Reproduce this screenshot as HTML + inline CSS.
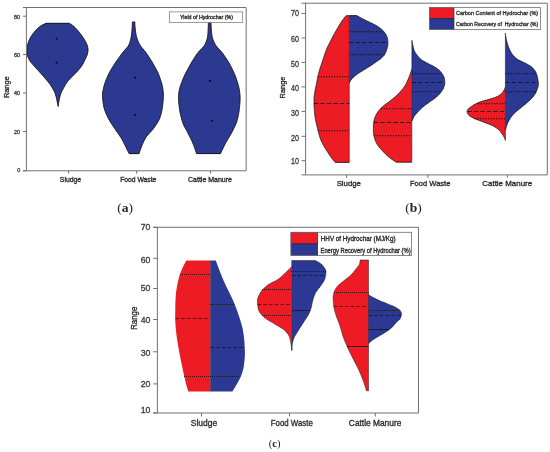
<!DOCTYPE html>
<html><head><meta charset="utf-8"><title>Violin plots</title>
<style>
html,body{margin:0;padding:0;background:#fff;}
body{width:550px;height:452px;overflow:hidden;}
svg{display:block;}
</style></head>
<body>
<svg width="550" height="452" viewBox="0 0 550 452">
<rect width="550" height="452" fill="#fff"/>
<path d="M45.90,23.30 L44.44,24.00 L43.04,24.71 L41.74,25.41 L40.59,26.12 L39.61,26.82 L38.73,27.53 L37.91,28.23 L37.14,28.93 L36.42,29.64 L35.75,30.34 L35.12,31.05 L34.52,31.75 L33.95,32.46 L33.41,33.16 L32.88,33.86 L32.37,34.57 L31.88,35.27 L31.41,35.98 L30.96,36.68 L30.54,37.38 L30.15,38.09 L29.79,38.79 L29.47,39.50 L29.18,40.20 L28.90,40.91 L28.63,41.61 L28.37,42.31 L28.12,43.02 L27.90,43.72 L27.70,44.43 L27.54,45.13 L27.40,45.84 L27.31,46.54 L27.24,47.24 L27.17,47.95 L27.11,48.65 L27.05,49.36 L27.01,50.06 L26.97,50.77 L26.93,51.47 L26.91,52.17 L26.90,52.88 L26.91,53.58 L27.00,54.29 L27.16,54.99 L27.38,55.69 L27.65,56.40 L27.96,57.10 L28.29,57.81 L28.65,58.51 L29.01,59.22 L29.36,59.92 L29.76,60.62 L30.23,61.33 L30.75,62.03 L31.31,62.74 L31.91,63.44 L32.53,64.15 L33.15,64.85 L33.78,65.55 L34.39,66.26 L35.00,66.96 L35.61,67.67 L36.25,68.37 L36.89,69.08 L37.55,69.78 L38.20,70.48 L38.86,71.19 L39.51,71.89 L40.15,72.60 L40.78,73.30 L41.40,74.01 L42.02,74.71 L42.64,75.41 L43.25,76.12 L43.86,76.82 L44.46,77.53 L45.06,78.23 L45.65,78.93 L46.25,79.64 L46.85,80.34 L47.44,81.05 L48.03,81.75 L48.60,82.46 L49.15,83.16 L49.69,83.86 L50.19,84.57 L50.68,85.27 L51.14,85.98 L51.60,86.68 L52.03,87.39 L52.45,88.09 L52.85,88.79 L53.25,89.50 L53.64,90.20 L54.01,90.91 L54.36,91.61 L54.68,92.32 L54.97,93.02 L55.22,93.72 L55.45,94.43 L55.67,95.13 L55.88,95.84 L56.07,96.54 L56.25,97.24 L56.42,97.95 L56.59,98.65 L56.75,99.36 L56.90,100.06 L57.03,100.77 L57.17,101.47 L57.30,102.17 L57.43,102.88 L57.57,103.58 L57.72,104.29 L57.87,104.99 L58.04,105.70 L58.20,106.40 L58.20,106.40 L58.26,105.70 L58.34,104.99 L58.43,104.29 L58.52,103.58 L58.63,102.88 L58.74,102.17 L58.86,101.47 L58.99,100.77 L59.13,100.06 L59.27,99.36 L59.41,98.65 L59.56,97.95 L59.73,97.24 L59.91,96.54 L60.11,95.84 L60.31,95.13 L60.54,94.43 L60.78,93.72 L61.03,93.02 L61.31,92.32 L61.63,91.61 L61.98,90.91 L62.35,90.20 L62.74,89.50 L63.13,88.79 L63.53,88.09 L63.92,87.39 L64.30,86.68 L64.69,85.98 L65.09,85.27 L65.50,84.57 L65.92,83.86 L66.37,83.16 L66.85,82.46 L67.36,81.75 L67.92,81.05 L68.53,80.34 L69.18,79.64 L69.84,78.93 L70.53,78.23 L71.21,77.53 L71.89,76.82 L72.56,76.12 L73.26,75.41 L73.97,74.71 L74.69,74.01 L75.40,73.30 L76.10,72.60 L76.78,71.89 L77.43,71.19 L78.05,70.48 L78.67,69.78 L79.28,69.08 L79.87,68.37 L80.44,67.67 L80.99,66.96 L81.50,66.26 L81.97,65.55 L82.40,64.85 L82.80,64.15 L83.19,63.44 L83.55,62.74 L83.90,62.03 L84.24,61.33 L84.57,60.62 L84.89,59.92 L85.22,59.22 L85.56,58.51 L85.89,57.81 L86.23,57.10 L86.55,56.40 L86.84,55.69 L87.11,54.99 L87.34,54.29 L87.52,53.58 L87.66,52.88 L87.78,52.17 L87.89,51.47 L87.97,50.77 L88.00,50.06 L87.98,49.36 L87.92,48.65 L87.83,47.95 L87.71,47.24 L87.59,46.54 L87.43,45.84 L87.20,45.13 L86.93,44.43 L86.61,43.72 L86.26,43.02 L85.89,42.31 L85.50,41.61 L85.10,40.91 L84.71,40.20 L84.32,39.50 L83.90,38.79 L83.46,38.09 L83.00,37.38 L82.51,36.68 L82.01,35.98 L81.50,35.27 L80.97,34.57 L80.44,33.86 L79.89,33.16 L79.34,32.46 L78.79,31.75 L78.22,31.05 L77.63,30.34 L77.02,29.64 L76.38,28.93 L75.71,28.23 L75.00,27.53 L74.25,26.82 L73.43,26.12 L72.50,25.41 L71.49,24.71 L70.41,24.00 L69.30,23.30 Z" fill="#2b3990" stroke="#111111" stroke-width="1.0" stroke-linejoin="round"/>
<path d="M132.40,22.00 L132.40,22.70 L132.38,23.40 L132.37,24.10 L132.34,24.80 L132.31,25.50 L132.27,26.20 L132.23,26.90 L132.19,27.60 L132.13,28.30 L132.08,29.00 L132.02,29.70 L131.96,30.40 L131.89,31.10 L131.82,31.80 L131.75,32.50 L131.68,33.20 L131.61,33.90 L131.53,34.60 L131.44,35.30 L131.34,36.00 L131.23,36.70 L131.11,37.40 L130.97,38.10 L130.82,38.80 L130.66,39.50 L130.49,40.20 L130.30,40.90 L130.10,41.60 L129.89,42.30 L129.67,43.00 L129.43,43.70 L129.13,44.40 L128.75,45.10 L128.31,45.80 L127.82,46.50 L127.28,47.20 L126.70,47.90 L126.10,48.60 L125.49,49.30 L124.87,50.00 L124.25,50.70 L123.65,51.40 L123.07,52.10 L122.52,52.80 L122.01,53.50 L121.50,54.20 L120.98,54.90 L120.47,55.60 L119.96,56.30 L119.45,57.00 L118.94,57.70 L118.44,58.40 L117.93,59.10 L117.44,59.80 L116.94,60.50 L116.46,61.20 L115.98,61.90 L115.51,62.60 L115.04,63.30 L114.59,64.00 L114.15,64.70 L113.70,65.40 L113.26,66.10 L112.81,66.80 L112.37,67.50 L111.93,68.20 L111.50,68.90 L111.08,69.60 L110.66,70.30 L110.26,71.00 L109.86,71.70 L109.48,72.40 L109.11,73.10 L108.75,73.80 L108.41,74.50 L108.09,75.20 L107.78,75.90 L107.48,76.60 L107.18,77.30 L106.88,78.00 L106.59,78.70 L106.30,79.40 L106.03,80.10 L105.75,80.80 L105.49,81.50 L105.23,82.20 L104.99,82.90 L104.75,83.60 L104.53,84.30 L104.31,85.00 L104.11,85.70 L103.92,86.40 L103.75,87.10 L103.59,87.80 L103.44,88.50 L103.29,89.20 L103.14,89.90 L102.99,90.60 L102.85,91.30 L102.73,92.00 L102.63,92.70 L102.55,93.40 L102.51,94.10 L102.50,94.80 L102.51,95.50 L102.53,96.20 L102.56,96.90 L102.61,97.60 L102.66,98.30 L102.72,99.00 L102.79,99.70 L102.86,100.40 L102.95,101.10 L103.03,101.80 L103.13,102.50 L103.23,103.20 L103.33,103.90 L103.43,104.60 L103.54,105.30 L103.65,106.00 L103.78,106.70 L103.94,107.40 L104.12,108.10 L104.32,108.80 L104.54,109.50 L104.78,110.20 L105.04,110.90 L105.30,111.60 L105.58,112.30 L105.87,113.00 L106.17,113.70 L106.48,114.40 L106.79,115.10 L107.10,115.80 L107.42,116.50 L107.74,117.20 L108.07,117.90 L108.43,118.60 L108.81,119.30 L109.20,120.00 L109.61,120.70 L110.03,121.40 L110.47,122.10 L110.91,122.80 L111.37,123.50 L111.83,124.20 L112.30,124.90 L112.77,125.60 L113.24,126.30 L113.71,127.00 L114.18,127.70 L114.65,128.40 L115.11,129.10 L115.56,129.80 L116.03,130.50 L116.50,131.20 L116.98,131.90 L117.48,132.60 L117.97,133.30 L118.47,134.00 L118.96,134.70 L119.45,135.40 L119.93,136.10 L120.40,136.80 L120.86,137.50 L121.30,138.20 L121.73,138.90 L122.13,139.60 L122.51,140.30 L122.89,141.00 L123.25,141.70 L123.61,142.40 L123.95,143.10 L124.29,143.80 L124.63,144.50 L124.96,145.20 L125.30,145.90 L125.63,146.60 L125.96,147.30 L126.30,148.00 L126.65,148.70 L127.00,149.40 L127.35,150.10 L127.70,150.80 L128.05,151.50 L128.40,152.20 L128.75,152.90 L129.10,153.60 L139.10,153.60 L139.30,152.90 L139.51,152.20 L139.73,151.50 L139.96,150.80 L140.20,150.10 L140.44,149.40 L140.70,148.70 L140.96,148.00 L141.22,147.30 L141.50,146.60 L141.78,145.90 L142.06,145.20 L142.35,144.50 L142.65,143.80 L142.96,143.10 L143.27,142.40 L143.60,141.70 L143.94,141.00 L144.29,140.30 L144.65,139.60 L145.04,138.90 L145.44,138.20 L145.86,137.50 L146.33,136.80 L146.85,136.10 L147.42,135.40 L148.02,134.70 L148.65,134.00 L149.29,133.30 L149.95,132.60 L150.61,131.90 L151.26,131.20 L151.89,130.50 L152.49,129.80 L153.06,129.10 L153.59,128.40 L154.07,127.70 L154.55,127.00 L155.03,126.30 L155.51,125.60 L155.98,124.90 L156.45,124.20 L156.90,123.50 L157.34,122.80 L157.76,122.10 L158.17,121.40 L158.56,120.70 L158.92,120.00 L159.26,119.30 L159.57,118.60 L159.85,117.90 L160.10,117.20 L160.32,116.50 L160.53,115.80 L160.74,115.10 L160.93,114.40 L161.11,113.70 L161.29,113.00 L161.46,112.30 L161.62,111.60 L161.77,110.90 L161.91,110.20 L162.05,109.50 L162.17,108.80 L162.28,108.10 L162.39,107.40 L162.48,106.70 L162.57,106.00 L162.64,105.30 L162.72,104.60 L162.79,103.90 L162.87,103.20 L162.94,102.50 L163.00,101.80 L163.07,101.10 L163.13,100.40 L163.19,99.70 L163.24,99.00 L163.28,98.30 L163.32,97.60 L163.35,96.90 L163.38,96.20 L163.39,95.50 L163.40,94.80 L163.39,94.10 L163.36,93.40 L163.31,92.70 L163.24,92.00 L163.16,91.30 L163.06,90.60 L162.96,89.90 L162.85,89.20 L162.75,88.50 L162.64,87.80 L162.52,87.10 L162.38,86.40 L162.23,85.70 L162.07,85.00 L161.90,84.30 L161.72,83.60 L161.52,82.90 L161.32,82.20 L161.11,81.50 L160.89,80.80 L160.66,80.10 L160.43,79.40 L160.19,78.70 L159.94,78.00 L159.69,77.30 L159.44,76.60 L159.18,75.90 L158.93,75.20 L158.65,74.50 L158.36,73.80 L158.06,73.10 L157.74,72.40 L157.40,71.70 L157.06,71.00 L156.70,70.30 L156.33,69.60 L155.96,68.90 L155.58,68.20 L155.20,67.50 L154.81,66.80 L154.41,66.10 L154.02,65.40 L153.62,64.70 L153.23,64.00 L152.83,63.30 L152.42,62.60 L152.01,61.90 L151.59,61.20 L151.16,60.50 L150.72,59.80 L150.28,59.10 L149.84,58.40 L149.38,57.70 L148.93,57.00 L148.46,56.30 L148.00,55.60 L147.53,54.90 L147.05,54.20 L146.57,53.50 L146.09,52.80 L145.57,52.10 L145.03,51.40 L144.45,50.70 L143.87,50.00 L143.28,49.30 L142.68,48.60 L142.10,47.90 L141.53,47.20 L140.98,46.50 L140.47,45.80 L140.00,45.10 L139.57,44.40 L139.20,43.70 L138.87,43.00 L138.55,42.30 L138.25,41.60 L137.95,40.90 L137.67,40.20 L137.40,39.50 L137.14,38.80 L136.90,38.10 L136.68,37.40 L136.48,36.70 L136.30,36.00 L136.13,35.30 L136.00,34.60 L135.89,33.90 L135.78,33.20 L135.68,32.50 L135.59,31.80 L135.49,31.10 L135.40,30.40 L135.32,29.70 L135.24,29.00 L135.16,28.30 L135.09,27.60 L135.03,26.90 L134.97,26.20 L134.92,25.50 L134.88,24.80 L134.84,24.10 L134.82,23.40 L134.81,22.70 L134.80,22.00 Z" fill="#2b3990" stroke="#111111" stroke-width="1.0" stroke-linejoin="round"/>
<path d="M208.50,18.00 L208.49,18.70 L208.48,19.41 L208.47,20.11 L208.45,20.81 L208.44,21.51 L208.42,22.22 L208.40,22.92 L208.38,23.62 L208.36,24.32 L208.33,25.03 L208.31,25.73 L208.28,26.43 L208.26,27.13 L208.23,27.84 L208.20,28.54 L208.17,29.24 L208.14,29.94 L208.10,30.65 L208.07,31.35 L208.02,32.05 L207.98,32.75 L207.93,33.46 L207.87,34.16 L207.81,34.86 L207.74,35.56 L207.67,36.27 L207.57,36.97 L207.44,37.67 L207.28,38.38 L207.09,39.08 L206.89,39.78 L206.65,40.48 L206.41,41.19 L206.14,41.89 L205.86,42.59 L205.56,43.29 L205.26,44.00 L204.89,44.70 L204.45,45.40 L203.93,46.10 L203.36,46.81 L202.75,47.51 L202.10,48.21 L201.42,48.91 L200.74,49.62 L200.06,50.32 L199.39,51.02 L198.74,51.72 L198.14,52.43 L197.57,53.13 L197.06,53.83 L196.57,54.53 L196.09,55.24 L195.62,55.94 L195.15,56.64 L194.69,57.35 L194.24,58.05 L193.80,58.75 L193.37,59.45 L192.94,60.16 L192.52,60.86 L192.10,61.56 L191.69,62.26 L191.28,62.97 L190.88,63.67 L190.48,64.37 L190.08,65.07 L189.69,65.78 L189.30,66.48 L188.91,67.18 L188.52,67.88 L188.13,68.59 L187.74,69.29 L187.36,69.99 L186.97,70.69 L186.59,71.40 L186.22,72.10 L185.85,72.80 L185.49,73.50 L185.14,74.21 L184.79,74.91 L184.46,75.61 L184.13,76.32 L183.82,77.02 L183.52,77.72 L183.23,78.42 L182.95,79.13 L182.68,79.83 L182.40,80.53 L182.13,81.23 L181.85,81.94 L181.58,82.64 L181.32,83.34 L181.06,84.04 L180.80,84.75 L180.56,85.45 L180.32,86.15 L180.10,86.85 L179.89,87.56 L179.70,88.26 L179.52,88.96 L179.36,89.66 L179.22,90.37 L179.10,91.07 L179.00,91.77 L178.92,92.47 L178.84,93.18 L178.76,93.88 L178.69,94.58 L178.62,95.28 L178.57,95.99 L178.53,96.69 L178.51,97.39 L178.50,98.10 L178.51,98.80 L178.53,99.50 L178.56,100.20 L178.60,100.91 L178.65,101.61 L178.71,102.31 L178.78,103.01 L178.85,103.72 L178.93,104.42 L179.01,105.12 L179.10,105.82 L179.19,106.53 L179.28,107.23 L179.37,107.93 L179.47,108.63 L179.56,109.34 L179.66,110.04 L179.77,110.74 L179.89,111.44 L180.02,112.15 L180.15,112.85 L180.30,113.55 L180.45,114.25 L180.61,114.96 L180.77,115.66 L180.95,116.36 L181.13,117.07 L181.31,117.77 L181.51,118.47 L181.71,119.17 L181.91,119.88 L182.12,120.58 L182.34,121.28 L182.57,121.98 L182.80,122.69 L183.03,123.39 L183.29,124.09 L183.58,124.79 L183.89,125.50 L184.23,126.20 L184.59,126.90 L184.97,127.60 L185.35,128.31 L185.74,129.01 L186.14,129.71 L186.53,130.41 L186.92,131.12 L187.30,131.82 L187.66,132.52 L188.01,133.22 L188.37,133.93 L188.73,134.63 L189.09,135.33 L189.45,136.04 L189.81,136.74 L190.17,137.44 L190.52,138.14 L190.87,138.85 L191.21,139.55 L191.55,140.25 L191.87,140.95 L192.18,141.66 L192.48,142.36 L192.77,143.06 L193.06,143.76 L193.34,144.47 L193.62,145.17 L193.89,145.87 L194.15,146.57 L194.42,147.28 L194.67,147.98 L194.92,148.68 L195.17,149.38 L195.41,150.09 L195.64,150.79 L195.86,151.49 L196.08,152.19 L196.30,152.90 L196.50,153.60 L220.50,153.60 L220.82,152.90 L221.14,152.19 L221.46,151.49 L221.79,150.79 L222.12,150.09 L222.46,149.38 L222.80,148.68 L223.14,147.98 L223.49,147.28 L223.84,146.57 L224.20,145.87 L224.56,145.17 L224.92,144.47 L225.28,143.76 L225.65,143.06 L226.02,142.36 L226.40,141.66 L226.80,140.95 L227.20,140.25 L227.62,139.55 L228.04,138.85 L228.47,138.14 L228.89,137.44 L229.32,136.74 L229.75,136.04 L230.17,135.33 L230.59,134.63 L230.99,133.93 L231.39,133.22 L231.77,132.52 L232.14,131.82 L232.49,131.12 L232.84,130.41 L233.19,129.71 L233.54,129.01 L233.88,128.31 L234.23,127.60 L234.56,126.90 L234.89,126.20 L235.22,125.50 L235.53,124.79 L235.82,124.09 L236.11,123.39 L236.38,122.69 L236.63,121.98 L236.86,121.28 L237.07,120.58 L237.26,119.88 L237.44,119.17 L237.61,118.47 L237.78,117.77 L237.94,117.07 L238.09,116.36 L238.24,115.66 L238.38,114.96 L238.51,114.25 L238.64,113.55 L238.76,112.85 L238.87,112.15 L238.98,111.44 L239.08,110.74 L239.17,110.04 L239.25,109.34 L239.33,108.63 L239.40,107.93 L239.48,107.23 L239.55,106.53 L239.62,105.82 L239.69,105.12 L239.76,104.42 L239.82,103.72 L239.88,103.01 L239.93,102.31 L239.98,101.61 L240.02,100.91 L240.05,100.20 L240.08,99.50 L240.09,98.80 L240.10,98.10 L240.09,97.39 L240.07,96.69 L240.03,95.99 L239.97,95.28 L239.91,94.58 L239.84,93.88 L239.76,93.18 L239.68,92.47 L239.60,91.77 L239.51,91.07 L239.40,90.37 L239.29,89.66 L239.16,88.96 L239.01,88.26 L238.86,87.56 L238.70,86.85 L238.52,86.15 L238.34,85.45 L238.15,84.75 L237.95,84.04 L237.75,83.34 L237.54,82.64 L237.32,81.94 L237.11,81.23 L236.89,80.53 L236.66,79.83 L236.44,79.13 L236.21,78.42 L235.97,77.72 L235.72,77.02 L235.45,76.32 L235.18,75.61 L234.89,74.91 L234.60,74.21 L234.29,73.50 L233.98,72.80 L233.66,72.10 L233.34,71.40 L233.00,70.69 L232.66,69.99 L232.32,69.29 L231.97,68.59 L231.61,67.88 L231.25,67.18 L230.89,66.48 L230.53,65.78 L230.15,65.07 L229.77,64.37 L229.37,63.67 L228.97,62.97 L228.56,62.26 L228.14,61.56 L227.71,60.86 L227.28,60.16 L226.83,59.45 L226.38,58.75 L225.93,58.05 L225.46,57.35 L224.99,56.64 L224.51,55.94 L224.02,55.24 L223.53,54.53 L223.04,53.83 L222.53,53.13 L221.97,52.43 L221.38,51.72 L220.76,51.02 L220.11,50.32 L219.45,49.62 L218.79,48.91 L218.14,48.21 L217.51,47.51 L216.90,46.81 L216.33,46.10 L215.81,45.40 L215.35,44.70 L214.95,44.00 L214.60,43.29 L214.26,42.59 L213.93,41.89 L213.61,41.19 L213.31,40.48 L213.04,39.78 L212.78,39.08 L212.55,38.38 L212.35,37.67 L212.18,36.97 L212.04,36.27 L211.94,35.56 L211.84,34.86 L211.75,34.16 L211.66,33.46 L211.59,32.75 L211.51,32.05 L211.44,31.35 L211.38,30.65 L211.33,29.94 L211.27,29.24 L211.23,28.54 L211.19,27.84 L211.15,27.13 L211.12,26.43 L211.09,25.73 L211.06,25.03 L211.04,24.32 L211.01,23.62 L210.99,22.92 L210.97,22.22 L210.95,21.51 L210.93,20.81 L210.92,20.11 L210.91,19.41 L210.90,18.70 L210.90,18.00 Z" fill="#2b3990" stroke="#111111" stroke-width="1.0" stroke-linejoin="round"/>
<circle cx="56.6" cy="38.8" r="1.05" fill="#0d0d0d"/>
<circle cx="56.6" cy="62.6" r="1.05" fill="#0d0d0d"/>
<circle cx="135.1" cy="77.8" r="1.05" fill="#0d0d0d"/>
<circle cx="135.2" cy="114.9" r="1.05" fill="#0d0d0d"/>
<circle cx="210.0" cy="80.9" r="1.05" fill="#0d0d0d"/>
<circle cx="211.9" cy="121.0" r="1.05" fill="#0d0d0d"/>
<rect x="169.3" y="11.9" width="73.4" height="10.6" fill="#fff" stroke="#707070" stroke-width="0.7"/>
<text x="206.5" y="19.0" font-family="Liberation Sans, sans-serif" font-size="5.4" font-weight="normal" text-anchor="middle" fill="#2a2a2a" stroke="#2a2a2a" stroke-width="0.32" textLength="53" lengthAdjust="spacingAndGlyphs">Yield of Hydrochar (%)</text>
<line x1="23.0" y1="7.5" x2="246.2" y2="7.5" stroke="#707070" stroke-width="1.0"/>
<line x1="26.4" y1="7.5" x2="26.4" y2="170.8" stroke="#707070" stroke-width="1.0"/>
<line x1="246.2" y1="7.5" x2="246.2" y2="170.8" stroke="#707070" stroke-width="1.0"/>
<line x1="23.0" y1="170.8" x2="246.2" y2="170.8" stroke="#707070" stroke-width="1.0"/>
<line x1="23.0" y1="16.2" x2="26.4" y2="16.2" stroke="#707070" stroke-width="1.0"/>
<text x="20.2" y="18.8" font-family="Liberation Sans, sans-serif" font-size="5.5" font-weight="normal" text-anchor="end" fill="#3a3a3a" stroke="#3a3a3a" stroke-width="0.32">80</text>
<line x1="23.0" y1="54.5" x2="26.4" y2="54.5" stroke="#707070" stroke-width="1.0"/>
<text x="20.2" y="57.3" font-family="Liberation Sans, sans-serif" font-size="5.5" font-weight="normal" text-anchor="end" fill="#3a3a3a" stroke="#3a3a3a" stroke-width="0.32">60</text>
<line x1="23.0" y1="93.0" x2="26.4" y2="93.0" stroke="#707070" stroke-width="1.0"/>
<text x="20.2" y="95.0" font-family="Liberation Sans, sans-serif" font-size="5.5" font-weight="normal" text-anchor="end" fill="#3a3a3a" stroke="#3a3a3a" stroke-width="0.32">40</text>
<line x1="23.0" y1="131.6" x2="26.4" y2="131.6" stroke="#707070" stroke-width="1.0"/>
<text x="20.2" y="133.5" font-family="Liberation Sans, sans-serif" font-size="5.5" font-weight="normal" text-anchor="end" fill="#3a3a3a" stroke="#3a3a3a" stroke-width="0.32">20</text>
<line x1="23.0" y1="170.8" x2="26.4" y2="170.8" stroke="#707070" stroke-width="1.0"/>
<text x="20.2" y="172.4" font-family="Liberation Sans, sans-serif" font-size="5.5" font-weight="normal" text-anchor="end" fill="#3a3a3a" stroke="#3a3a3a" stroke-width="0.32">0</text>
<line x1="68.6" y1="170.8" x2="68.6" y2="173.6" stroke="#707070" stroke-width="1.0"/>
<line x1="136.6" y1="170.8" x2="136.6" y2="173.6" stroke="#707070" stroke-width="1.0"/>
<line x1="210.6" y1="170.8" x2="210.6" y2="173.6" stroke="#707070" stroke-width="1.0"/>
<text x="70.5" y="182.0" font-family="Liberation Sans, sans-serif" font-size="7.0" font-weight="normal" text-anchor="middle" fill="#2a2a2a" stroke="#2a2a2a" stroke-width="0.32" textLength="21.4" lengthAdjust="spacingAndGlyphs">Sludge</text>
<text x="138.3" y="182.0" font-family="Liberation Sans, sans-serif" font-size="7.0" font-weight="normal" text-anchor="middle" fill="#2a2a2a" stroke="#2a2a2a" stroke-width="0.32" textLength="36.2" lengthAdjust="spacingAndGlyphs">Food Waste</text>
<text x="210.0" y="182.0" font-family="Liberation Sans, sans-serif" font-size="7.0" font-weight="normal" text-anchor="middle" fill="#2a2a2a" stroke="#2a2a2a" stroke-width="0.32" textLength="43.9" lengthAdjust="spacingAndGlyphs">Cattle Manure</text>
<text x="9.0" y="87.2" font-family="Liberation Sans, sans-serif" font-size="7.2" font-weight="normal" text-anchor="middle" fill="#2a2a2a" stroke="#2a2a2a" stroke-width="0.32" textLength="21.5" lengthAdjust="spacingAndGlyphs" transform="rotate(-90 9.0 87.2)">Range</text>
<path d="M349.30,15.70 L346.10,15.70 L345.51,16.40 L344.93,17.10 L344.37,17.81 L343.82,18.51 L343.29,19.21 L342.78,19.91 L342.28,20.61 L341.79,21.32 L341.31,22.02 L340.84,22.72 L340.38,23.42 L339.93,24.12 L339.50,24.82 L339.08,25.53 L338.67,26.23 L338.27,26.93 L337.87,27.63 L337.47,28.33 L337.07,29.04 L336.66,29.74 L336.25,30.44 L335.84,31.14 L335.42,31.84 L335.01,32.55 L334.60,33.25 L334.20,33.95 L333.81,34.65 L333.42,35.35 L333.05,36.06 L332.69,36.76 L332.34,37.46 L332.00,38.16 L331.65,38.86 L331.31,39.57 L330.96,40.27 L330.62,40.97 L330.26,41.67 L329.90,42.37 L329.53,43.07 L329.16,43.78 L328.79,44.48 L328.43,45.18 L328.08,45.88 L327.74,46.58 L327.42,47.29 L327.11,47.99 L326.80,48.69 L326.51,49.39 L326.23,50.09 L325.95,50.80 L325.69,51.50 L325.43,52.20 L325.18,52.90 L324.95,53.60 L324.72,54.31 L324.49,55.01 L324.27,55.71 L324.05,56.41 L323.83,57.11 L323.60,57.81 L323.36,58.52 L323.12,59.22 L322.88,59.92 L322.64,60.62 L322.40,61.32 L322.16,62.03 L321.93,62.73 L321.69,63.43 L321.46,64.13 L321.22,64.83 L320.98,65.54 L320.74,66.24 L320.51,66.94 L320.28,67.64 L320.05,68.34 L319.83,69.05 L319.63,69.75 L319.43,70.45 L319.23,71.15 L319.03,71.85 L318.84,72.56 L318.66,73.26 L318.48,73.96 L318.30,74.66 L318.14,75.36 L317.97,76.06 L317.82,76.77 L317.67,77.47 L317.54,78.17 L317.40,78.87 L317.27,79.57 L317.14,80.28 L317.02,80.98 L316.89,81.68 L316.76,82.38 L316.62,83.08 L316.48,83.79 L316.33,84.49 L316.18,85.19 L316.03,85.89 L315.87,86.59 L315.72,87.30 L315.57,88.00 L315.42,88.70 L315.28,89.40 L315.15,90.10 L315.03,90.80 L314.92,91.51 L314.80,92.21 L314.68,92.91 L314.56,93.61 L314.45,94.31 L314.35,95.02 L314.26,95.72 L314.19,96.42 L314.13,97.12 L314.10,97.82 L314.08,98.53 L314.06,99.23 L314.04,99.93 L314.03,100.63 L314.02,101.33 L314.01,102.04 L314.00,102.74 L314.00,103.44 L314.00,104.14 L314.02,104.84 L314.04,105.54 L314.08,106.25 L314.12,106.95 L314.17,107.65 L314.22,108.35 L314.27,109.05 L314.32,109.76 L314.37,110.46 L314.43,111.16 L314.49,111.86 L314.56,112.56 L314.63,113.27 L314.70,113.97 L314.78,114.67 L314.87,115.37 L314.96,116.07 L315.05,116.78 L315.16,117.48 L315.28,118.18 L315.40,118.88 L315.54,119.58 L315.68,120.29 L315.83,120.99 L315.97,121.69 L316.13,122.39 L316.28,123.09 L316.43,123.79 L316.59,124.50 L316.76,125.20 L316.93,125.90 L317.10,126.60 L317.28,127.30 L317.45,128.01 L317.63,128.71 L317.80,129.41 L317.97,130.11 L318.14,130.81 L318.30,131.52 L318.47,132.22 L318.65,132.92 L318.82,133.62 L319.01,134.32 L319.21,135.03 L319.41,135.73 L319.62,136.43 L319.84,137.13 L320.07,137.83 L320.31,138.53 L320.57,139.24 L320.84,139.94 L321.13,140.64 L321.44,141.34 L321.78,142.04 L322.14,142.75 L322.51,143.45 L322.89,144.15 L323.27,144.85 L323.65,145.55 L324.04,146.26 L324.44,146.96 L324.85,147.66 L325.27,148.36 L325.70,149.06 L326.13,149.77 L326.57,150.47 L327.01,151.17 L327.47,151.87 L327.93,152.57 L328.39,153.28 L328.87,153.98 L329.34,154.68 L329.82,155.38 L330.31,156.08 L330.79,156.78 L331.29,157.49 L331.79,158.19 L332.31,158.89 L332.85,159.59 L333.41,160.29 L333.99,161.00 L334.59,161.70 L335.20,162.40 L349.30,162.40 Z" fill="#ed1c24"/>
<path d="M349.30,15.70 L346.10,15.70 L345.51,16.40 L344.93,17.10 L344.37,17.81 L343.82,18.51 L343.29,19.21 L342.78,19.91 L342.28,20.61 L341.79,21.32 L341.31,22.02 L340.84,22.72 L340.38,23.42 L339.93,24.12 L339.50,24.82 L339.08,25.53 L338.67,26.23 L338.27,26.93 L337.87,27.63 L337.47,28.33 L337.07,29.04 L336.66,29.74 L336.25,30.44 L335.84,31.14 L335.42,31.84 L335.01,32.55 L334.60,33.25 L334.20,33.95 L333.81,34.65 L333.42,35.35 L333.05,36.06 L332.69,36.76 L332.34,37.46 L332.00,38.16 L331.65,38.86 L331.31,39.57 L330.96,40.27 L330.62,40.97 L330.26,41.67 L329.90,42.37 L329.53,43.07 L329.16,43.78 L328.79,44.48 L328.43,45.18 L328.08,45.88 L327.74,46.58 L327.42,47.29 L327.11,47.99 L326.80,48.69 L326.51,49.39 L326.23,50.09 L325.95,50.80 L325.69,51.50 L325.43,52.20 L325.18,52.90 L324.95,53.60 L324.72,54.31 L324.49,55.01 L324.27,55.71 L324.05,56.41 L323.83,57.11 L323.60,57.81 L323.36,58.52 L323.12,59.22 L322.88,59.92 L322.64,60.62 L322.40,61.32 L322.16,62.03 L321.93,62.73 L321.69,63.43 L321.46,64.13 L321.22,64.83 L320.98,65.54 L320.74,66.24 L320.51,66.94 L320.28,67.64 L320.05,68.34 L319.83,69.05 L319.63,69.75 L319.43,70.45 L319.23,71.15 L319.03,71.85 L318.84,72.56 L318.66,73.26 L318.48,73.96 L318.30,74.66 L318.14,75.36 L317.97,76.06 L317.82,76.77 L317.67,77.47 L317.54,78.17 L317.40,78.87 L317.27,79.57 L317.14,80.28 L317.02,80.98 L316.89,81.68 L316.76,82.38 L316.62,83.08 L316.48,83.79 L316.33,84.49 L316.18,85.19 L316.03,85.89 L315.87,86.59 L315.72,87.30 L315.57,88.00 L315.42,88.70 L315.28,89.40 L315.15,90.10 L315.03,90.80 L314.92,91.51 L314.80,92.21 L314.68,92.91 L314.56,93.61 L314.45,94.31 L314.35,95.02 L314.26,95.72 L314.19,96.42 L314.13,97.12 L314.10,97.82 L314.08,98.53 L314.06,99.23 L314.04,99.93 L314.03,100.63 L314.02,101.33 L314.01,102.04 L314.00,102.74 L314.00,103.44 L314.00,104.14 L314.02,104.84 L314.04,105.54 L314.08,106.25 L314.12,106.95 L314.17,107.65 L314.22,108.35 L314.27,109.05 L314.32,109.76 L314.37,110.46 L314.43,111.16 L314.49,111.86 L314.56,112.56 L314.63,113.27 L314.70,113.97 L314.78,114.67 L314.87,115.37 L314.96,116.07 L315.05,116.78 L315.16,117.48 L315.28,118.18 L315.40,118.88 L315.54,119.58 L315.68,120.29 L315.83,120.99 L315.97,121.69 L316.13,122.39 L316.28,123.09 L316.43,123.79 L316.59,124.50 L316.76,125.20 L316.93,125.90 L317.10,126.60 L317.28,127.30 L317.45,128.01 L317.63,128.71 L317.80,129.41 L317.97,130.11 L318.14,130.81 L318.30,131.52 L318.47,132.22 L318.65,132.92 L318.82,133.62 L319.01,134.32 L319.21,135.03 L319.41,135.73 L319.62,136.43 L319.84,137.13 L320.07,137.83 L320.31,138.53 L320.57,139.24 L320.84,139.94 L321.13,140.64 L321.44,141.34 L321.78,142.04 L322.14,142.75 L322.51,143.45 L322.89,144.15 L323.27,144.85 L323.65,145.55 L324.04,146.26 L324.44,146.96 L324.85,147.66 L325.27,148.36 L325.70,149.06 L326.13,149.77 L326.57,150.47 L327.01,151.17 L327.47,151.87 L327.93,152.57 L328.39,153.28 L328.87,153.98 L329.34,154.68 L329.82,155.38 L330.31,156.08 L330.79,156.78 L331.29,157.49 L331.79,158.19 L332.31,158.89 L332.85,159.59 L333.41,160.29 L333.99,161.00 L334.59,161.70 L335.20,162.40 L349.30,162.40" fill="none" stroke="#111111" stroke-width="0.8" stroke-linejoin="round"/>
<path d="M349.30,15.60 L356.80,15.60 L358.03,16.30 L359.29,17.00 L360.57,17.71 L361.88,18.41 L363.22,19.11 L364.60,19.81 L366.03,20.51 L367.48,21.22 L368.92,21.92 L370.34,22.62 L371.77,23.32 L373.23,24.02 L374.68,24.73 L376.05,25.43 L377.28,26.13 L378.35,26.83 L379.34,27.54 L380.28,28.24 L381.15,28.94 L381.95,29.64 L382.68,30.34 L383.33,31.05 L383.93,31.75 L384.51,32.45 L385.04,33.15 L385.52,33.85 L385.94,34.56 L386.30,35.26 L386.59,35.96 L386.86,36.66 L387.11,37.36 L387.33,38.07 L387.51,38.77 L387.64,39.47 L387.71,40.17 L387.77,40.88 L387.82,41.58 L387.86,42.28 L387.88,42.98 L387.90,43.68 L387.89,44.39 L387.80,45.09 L387.67,45.79 L387.51,46.49 L387.36,47.19 L387.20,47.90 L387.02,48.60 L386.82,49.30 L386.60,50.00 L386.35,50.70 L386.07,51.41 L385.76,52.11 L385.43,52.81 L385.06,53.51 L384.66,54.21 L384.23,54.92 L383.72,55.62 L383.14,56.32 L382.50,57.02 L381.79,57.73 L381.02,58.43 L380.12,59.13 L379.12,59.83 L378.08,60.53 L377.02,61.24 L375.99,61.94 L375.00,62.64 L374.01,63.34 L373.01,64.04 L372.01,64.75 L370.98,65.45 L369.92,66.15 L368.82,66.85 L367.70,67.55 L366.56,68.26 L365.41,68.96 L364.28,69.66 L363.16,70.36 L362.01,71.06 L360.85,71.77 L359.72,72.47 L358.64,73.17 L357.64,73.87 L356.69,74.58 L355.77,75.28 L354.88,75.98 L354.06,76.68 L353.30,77.38 L352.63,78.09 L352.01,78.79 L351.43,79.49 L350.89,80.19 L350.40,80.89 L349.97,81.60 L349.60,82.30 L349.30,83.00 L349.30,83.00 Z" fill="#2b3894"/>
<path d="M349.30,15.60 L356.80,15.60 L358.03,16.30 L359.29,17.00 L360.57,17.71 L361.88,18.41 L363.22,19.11 L364.60,19.81 L366.03,20.51 L367.48,21.22 L368.92,21.92 L370.34,22.62 L371.77,23.32 L373.23,24.02 L374.68,24.73 L376.05,25.43 L377.28,26.13 L378.35,26.83 L379.34,27.54 L380.28,28.24 L381.15,28.94 L381.95,29.64 L382.68,30.34 L383.33,31.05 L383.93,31.75 L384.51,32.45 L385.04,33.15 L385.52,33.85 L385.94,34.56 L386.30,35.26 L386.59,35.96 L386.86,36.66 L387.11,37.36 L387.33,38.07 L387.51,38.77 L387.64,39.47 L387.71,40.17 L387.77,40.88 L387.82,41.58 L387.86,42.28 L387.88,42.98 L387.90,43.68 L387.89,44.39 L387.80,45.09 L387.67,45.79 L387.51,46.49 L387.36,47.19 L387.20,47.90 L387.02,48.60 L386.82,49.30 L386.60,50.00 L386.35,50.70 L386.07,51.41 L385.76,52.11 L385.43,52.81 L385.06,53.51 L384.66,54.21 L384.23,54.92 L383.72,55.62 L383.14,56.32 L382.50,57.02 L381.79,57.73 L381.02,58.43 L380.12,59.13 L379.12,59.83 L378.08,60.53 L377.02,61.24 L375.99,61.94 L375.00,62.64 L374.01,63.34 L373.01,64.04 L372.01,64.75 L370.98,65.45 L369.92,66.15 L368.82,66.85 L367.70,67.55 L366.56,68.26 L365.41,68.96 L364.28,69.66 L363.16,70.36 L362.01,71.06 L360.85,71.77 L359.72,72.47 L358.64,73.17 L357.64,73.87 L356.69,74.58 L355.77,75.28 L354.88,75.98 L354.06,76.68 L353.30,77.38 L352.63,78.09 L352.01,78.79 L351.43,79.49 L350.89,80.19 L350.40,80.89 L349.97,81.60 L349.60,82.30 L349.30,83.00 L349.30,83.00" fill="none" stroke="#111111" stroke-width="0.8" stroke-linejoin="round"/>
<path d="M411.80,69.10 L411.80,69.10 L411.60,69.80 L411.39,70.50 L411.17,71.20 L410.95,71.90 L410.72,72.60 L410.48,73.30 L410.24,74.00 L409.98,74.70 L409.72,75.40 L409.46,76.10 L409.18,76.80 L408.90,77.50 L408.61,78.20 L408.32,78.90 L408.01,79.60 L407.70,80.30 L407.38,81.00 L407.07,81.70 L406.74,82.40 L406.41,83.10 L406.06,83.80 L405.70,84.50 L405.31,85.20 L404.91,85.90 L404.47,86.60 L404.00,87.30 L403.48,88.00 L402.92,88.70 L402.34,89.40 L401.74,90.10 L401.12,90.80 L400.50,91.50 L399.86,92.20 L399.21,92.90 L398.53,93.60 L397.83,94.30 L397.11,95.00 L396.37,95.70 L395.61,96.40 L394.83,97.10 L394.02,97.80 L393.18,98.50 L392.32,99.20 L391.45,99.90 L390.57,100.60 L389.68,101.30 L388.78,102.00 L387.84,102.70 L386.87,103.40 L385.89,104.10 L384.94,104.80 L384.03,105.50 L383.20,106.20 L382.42,106.90 L381.66,107.60 L380.94,108.30 L380.25,109.00 L379.61,109.70 L379.01,110.40 L378.48,111.10 L377.97,111.80 L377.49,112.50 L377.04,113.20 L376.62,113.90 L376.24,114.60 L375.89,115.30 L375.57,116.00 L375.26,116.70 L374.96,117.40 L374.68,118.10 L374.43,118.80 L374.22,119.50 L374.06,120.20 L373.93,120.90 L373.82,121.60 L373.71,122.30 L373.62,123.00 L373.53,123.70 L373.47,124.40 L373.42,125.10 L373.40,125.80 L373.40,126.50 L373.40,127.20 L373.40,127.90 L373.40,128.60 L373.40,129.30 L373.40,130.00 L373.40,130.70 L373.40,131.40 L373.43,132.10 L373.50,132.80 L373.58,133.50 L373.69,134.20 L373.82,134.90 L373.96,135.60 L374.11,136.30 L374.27,137.00 L374.42,137.70 L374.60,138.40 L374.81,139.10 L375.06,139.80 L375.32,140.50 L375.62,141.20 L375.94,141.90 L376.27,142.60 L376.63,143.30 L377.00,144.00 L377.41,144.70 L377.87,145.40 L378.38,146.10 L378.94,146.80 L379.52,147.50 L380.13,148.20 L380.75,148.90 L381.38,149.60 L382.01,150.30 L382.64,151.00 L383.28,151.70 L383.94,152.40 L384.62,153.10 L385.31,153.80 L386.03,154.50 L386.78,155.20 L387.56,155.90 L388.36,156.60 L389.21,157.30 L390.10,158.00 L391.04,158.70 L392.02,159.40 L393.04,160.10 L394.10,160.80 L395.18,161.50 L396.30,162.20 L411.80,162.20 Z" fill="#ed1c24"/>
<path d="M411.80,69.10 L411.80,69.10 L411.60,69.80 L411.39,70.50 L411.17,71.20 L410.95,71.90 L410.72,72.60 L410.48,73.30 L410.24,74.00 L409.98,74.70 L409.72,75.40 L409.46,76.10 L409.18,76.80 L408.90,77.50 L408.61,78.20 L408.32,78.90 L408.01,79.60 L407.70,80.30 L407.38,81.00 L407.07,81.70 L406.74,82.40 L406.41,83.10 L406.06,83.80 L405.70,84.50 L405.31,85.20 L404.91,85.90 L404.47,86.60 L404.00,87.30 L403.48,88.00 L402.92,88.70 L402.34,89.40 L401.74,90.10 L401.12,90.80 L400.50,91.50 L399.86,92.20 L399.21,92.90 L398.53,93.60 L397.83,94.30 L397.11,95.00 L396.37,95.70 L395.61,96.40 L394.83,97.10 L394.02,97.80 L393.18,98.50 L392.32,99.20 L391.45,99.90 L390.57,100.60 L389.68,101.30 L388.78,102.00 L387.84,102.70 L386.87,103.40 L385.89,104.10 L384.94,104.80 L384.03,105.50 L383.20,106.20 L382.42,106.90 L381.66,107.60 L380.94,108.30 L380.25,109.00 L379.61,109.70 L379.01,110.40 L378.48,111.10 L377.97,111.80 L377.49,112.50 L377.04,113.20 L376.62,113.90 L376.24,114.60 L375.89,115.30 L375.57,116.00 L375.26,116.70 L374.96,117.40 L374.68,118.10 L374.43,118.80 L374.22,119.50 L374.06,120.20 L373.93,120.90 L373.82,121.60 L373.71,122.30 L373.62,123.00 L373.53,123.70 L373.47,124.40 L373.42,125.10 L373.40,125.80 L373.40,126.50 L373.40,127.20 L373.40,127.90 L373.40,128.60 L373.40,129.30 L373.40,130.00 L373.40,130.70 L373.40,131.40 L373.43,132.10 L373.50,132.80 L373.58,133.50 L373.69,134.20 L373.82,134.90 L373.96,135.60 L374.11,136.30 L374.27,137.00 L374.42,137.70 L374.60,138.40 L374.81,139.10 L375.06,139.80 L375.32,140.50 L375.62,141.20 L375.94,141.90 L376.27,142.60 L376.63,143.30 L377.00,144.00 L377.41,144.70 L377.87,145.40 L378.38,146.10 L378.94,146.80 L379.52,147.50 L380.13,148.20 L380.75,148.90 L381.38,149.60 L382.01,150.30 L382.64,151.00 L383.28,151.70 L383.94,152.40 L384.62,153.10 L385.31,153.80 L386.03,154.50 L386.78,155.20 L387.56,155.90 L388.36,156.60 L389.21,157.30 L390.10,158.00 L391.04,158.70 L392.02,159.40 L393.04,160.10 L394.10,160.80 L395.18,161.50 L396.30,162.20 L411.80,162.20" fill="none" stroke="#111111" stroke-width="0.8" stroke-linejoin="round"/>
<path d="M411.90,40.40 L411.90,40.40 L412.00,41.10 L412.11,41.80 L412.23,42.50 L412.36,43.20 L412.49,43.90 L412.64,44.60 L412.79,45.30 L412.95,46.00 L413.11,46.70 L413.28,47.40 L413.46,48.10 L413.65,48.80 L413.87,49.50 L414.11,50.20 L414.38,50.90 L414.71,51.60 L415.09,52.30 L415.51,53.00 L415.98,53.70 L416.48,54.40 L417.00,55.10 L417.53,55.80 L418.10,56.50 L418.71,57.20 L419.37,57.90 L420.09,58.60 L420.87,59.30 L421.73,60.00 L422.75,60.70 L423.95,61.40 L425.24,62.10 L426.57,62.80 L427.87,63.50 L429.24,64.20 L430.67,64.90 L432.09,65.60 L433.43,66.30 L434.63,67.00 L435.77,67.70 L436.86,68.40 L437.87,69.10 L438.76,69.80 L439.50,70.50 L440.18,71.20 L440.79,71.90 L441.35,72.60 L441.86,73.30 L442.31,74.00 L442.71,74.70 L443.10,75.40 L443.47,76.10 L443.81,76.80 L444.11,77.50 L444.34,78.20 L444.49,78.90 L444.57,79.60 L444.65,80.30 L444.72,81.00 L444.76,81.70 L444.79,82.40 L444.80,83.10 L444.74,83.80 L444.61,84.50 L444.44,85.20 L444.23,85.90 L443.99,86.60 L443.74,87.30 L443.49,88.00 L443.19,88.70 L442.83,89.40 L442.42,90.10 L441.98,90.80 L441.50,91.50 L441.00,92.20 L440.47,92.90 L439.89,93.60 L439.25,94.30 L438.56,95.00 L437.82,95.70 L437.06,96.40 L436.26,97.10 L435.44,97.80 L434.55,98.50 L433.59,99.20 L432.59,99.90 L431.57,100.60 L430.55,101.30 L429.55,102.00 L428.59,102.70 L427.62,103.40 L426.64,104.10 L425.67,104.80 L424.72,105.50 L423.81,106.20 L422.95,106.90 L422.15,107.60 L421.38,108.30 L420.65,109.00 L419.94,109.70 L419.26,110.40 L418.60,111.10 L417.97,111.80 L417.34,112.50 L416.72,113.20 L416.10,113.90 L415.51,114.60 L414.95,115.30 L414.43,116.00 L413.97,116.70 L413.58,117.40 L413.22,118.10 L412.88,118.80 L412.58,119.50 L412.32,120.20 L412.10,120.90 L411.90,120.90 Z" fill="#2b3894"/>
<path d="M411.90,40.40 L411.90,40.40 L412.00,41.10 L412.11,41.80 L412.23,42.50 L412.36,43.20 L412.49,43.90 L412.64,44.60 L412.79,45.30 L412.95,46.00 L413.11,46.70 L413.28,47.40 L413.46,48.10 L413.65,48.80 L413.87,49.50 L414.11,50.20 L414.38,50.90 L414.71,51.60 L415.09,52.30 L415.51,53.00 L415.98,53.70 L416.48,54.40 L417.00,55.10 L417.53,55.80 L418.10,56.50 L418.71,57.20 L419.37,57.90 L420.09,58.60 L420.87,59.30 L421.73,60.00 L422.75,60.70 L423.95,61.40 L425.24,62.10 L426.57,62.80 L427.87,63.50 L429.24,64.20 L430.67,64.90 L432.09,65.60 L433.43,66.30 L434.63,67.00 L435.77,67.70 L436.86,68.40 L437.87,69.10 L438.76,69.80 L439.50,70.50 L440.18,71.20 L440.79,71.90 L441.35,72.60 L441.86,73.30 L442.31,74.00 L442.71,74.70 L443.10,75.40 L443.47,76.10 L443.81,76.80 L444.11,77.50 L444.34,78.20 L444.49,78.90 L444.57,79.60 L444.65,80.30 L444.72,81.00 L444.76,81.70 L444.79,82.40 L444.80,83.10 L444.74,83.80 L444.61,84.50 L444.44,85.20 L444.23,85.90 L443.99,86.60 L443.74,87.30 L443.49,88.00 L443.19,88.70 L442.83,89.40 L442.42,90.10 L441.98,90.80 L441.50,91.50 L441.00,92.20 L440.47,92.90 L439.89,93.60 L439.25,94.30 L438.56,95.00 L437.82,95.70 L437.06,96.40 L436.26,97.10 L435.44,97.80 L434.55,98.50 L433.59,99.20 L432.59,99.90 L431.57,100.60 L430.55,101.30 L429.55,102.00 L428.59,102.70 L427.62,103.40 L426.64,104.10 L425.67,104.80 L424.72,105.50 L423.81,106.20 L422.95,106.90 L422.15,107.60 L421.38,108.30 L420.65,109.00 L419.94,109.70 L419.26,110.40 L418.60,111.10 L417.97,111.80 L417.34,112.50 L416.72,113.20 L416.10,113.90 L415.51,114.60 L414.95,115.30 L414.43,116.00 L413.97,116.70 L413.58,117.40 L413.22,118.10 L412.88,118.80 L412.58,119.50 L412.32,120.20 L412.10,120.90 L411.90,120.90" fill="none" stroke="#111111" stroke-width="0.8" stroke-linejoin="round"/>
<path d="M505.40,86.60 L505.40,86.60 L505.29,87.31 L505.09,88.01 L504.81,88.72 L504.47,89.43 L504.08,90.13 L503.65,90.84 L503.20,91.55 L502.71,92.25 L502.12,92.96 L501.43,93.67 L500.62,94.37 L499.70,95.08 L498.66,95.79 L497.46,96.49 L495.80,97.20 L493.76,97.91 L491.52,98.61 L489.26,99.32 L486.86,100.03 L484.20,100.73 L481.67,101.44 L479.63,102.14 L477.94,102.85 L476.41,103.56 L475.02,104.26 L473.77,104.97 L472.63,105.68 L471.58,106.38 L470.56,107.09 L469.60,107.80 L468.77,108.50 L468.12,109.21 L467.68,109.92 L467.34,110.62 L467.12,111.33 L467.13,112.04 L467.31,112.74 L467.61,113.45 L468.00,114.16 L468.44,114.86 L469.13,115.57 L470.15,116.28 L471.41,116.98 L472.81,117.69 L474.28,118.40 L475.77,119.10 L477.50,119.81 L479.41,120.52 L481.39,121.22 L483.35,121.93 L485.19,122.64 L486.99,123.34 L488.82,124.05 L490.60,124.76 L492.25,125.46 L493.69,126.17 L494.89,126.88 L495.98,127.58 L496.98,128.29 L497.88,128.99 L498.69,129.70 L499.40,130.41 L500.05,131.11 L500.65,131.82 L501.20,132.53 L501.71,133.23 L502.19,133.94 L502.64,134.65 L503.07,135.35 L503.50,136.06 L503.93,136.77 L504.33,137.47 L504.69,138.18 L504.97,138.89 L505.17,139.59 L505.30,140.30 L505.40,140.30 Z" fill="#ed1c24"/>
<path d="M505.40,86.60 L505.40,86.60 L505.29,87.31 L505.09,88.01 L504.81,88.72 L504.47,89.43 L504.08,90.13 L503.65,90.84 L503.20,91.55 L502.71,92.25 L502.12,92.96 L501.43,93.67 L500.62,94.37 L499.70,95.08 L498.66,95.79 L497.46,96.49 L495.80,97.20 L493.76,97.91 L491.52,98.61 L489.26,99.32 L486.86,100.03 L484.20,100.73 L481.67,101.44 L479.63,102.14 L477.94,102.85 L476.41,103.56 L475.02,104.26 L473.77,104.97 L472.63,105.68 L471.58,106.38 L470.56,107.09 L469.60,107.80 L468.77,108.50 L468.12,109.21 L467.68,109.92 L467.34,110.62 L467.12,111.33 L467.13,112.04 L467.31,112.74 L467.61,113.45 L468.00,114.16 L468.44,114.86 L469.13,115.57 L470.15,116.28 L471.41,116.98 L472.81,117.69 L474.28,118.40 L475.77,119.10 L477.50,119.81 L479.41,120.52 L481.39,121.22 L483.35,121.93 L485.19,122.64 L486.99,123.34 L488.82,124.05 L490.60,124.76 L492.25,125.46 L493.69,126.17 L494.89,126.88 L495.98,127.58 L496.98,128.29 L497.88,128.99 L498.69,129.70 L499.40,130.41 L500.05,131.11 L500.65,131.82 L501.20,132.53 L501.71,133.23 L502.19,133.94 L502.64,134.65 L503.07,135.35 L503.50,136.06 L503.93,136.77 L504.33,137.47 L504.69,138.18 L504.97,138.89 L505.17,139.59 L505.30,140.30 L505.40,140.30" fill="none" stroke="#111111" stroke-width="0.8" stroke-linejoin="round"/>
<path d="M505.40,33.30 L505.30,33.30 L505.39,34.00 L505.48,34.71 L505.59,35.41 L505.70,36.12 L505.83,36.82 L505.96,37.53 L506.10,38.23 L506.24,38.94 L506.39,39.64 L506.54,40.34 L506.70,41.05 L506.87,41.75 L507.05,42.46 L507.24,43.16 L507.45,43.87 L507.66,44.57 L507.88,45.27 L508.12,45.98 L508.37,46.68 L508.63,47.39 L508.91,48.09 L509.20,48.80 L509.52,49.50 L509.85,50.21 L510.20,50.91 L510.58,51.61 L510.99,52.32 L511.42,53.02 L511.88,53.73 L512.38,54.43 L512.93,55.14 L513.54,55.84 L514.21,56.54 L514.94,57.25 L515.73,57.95 L516.59,58.66 L517.53,59.36 L518.70,60.07 L520.10,60.77 L521.62,61.48 L523.16,62.18 L524.60,62.88 L525.91,63.59 L527.24,64.29 L528.56,65.00 L529.80,65.70 L530.90,66.41 L531.80,67.11 L532.53,67.81 L533.20,68.52 L533.82,69.22 L534.38,69.93 L534.88,70.63 L535.32,71.34 L535.69,72.04 L536.00,72.75 L536.29,73.45 L536.55,74.15 L536.79,74.86 L537.01,75.56 L537.22,76.27 L537.40,76.97 L537.55,77.68 L537.69,78.38 L537.80,79.08 L537.90,79.79 L537.99,80.49 L538.08,81.20 L538.16,81.90 L538.22,82.61 L538.27,83.31 L538.30,84.02 L538.29,84.72 L538.24,85.42 L538.13,86.13 L537.97,86.83 L537.78,87.54 L537.56,88.24 L537.31,88.95 L537.05,89.65 L536.78,90.35 L536.52,91.06 L536.23,91.76 L535.89,92.47 L535.51,93.17 L535.09,93.88 L534.64,94.58 L534.16,95.29 L533.65,95.99 L533.13,96.69 L532.56,97.40 L531.92,98.10 L531.24,98.81 L530.51,99.51 L529.76,100.22 L528.99,100.92 L528.22,101.62 L527.45,102.33 L526.65,103.03 L525.83,103.74 L524.98,104.44 L524.12,105.15 L523.26,105.85 L522.39,106.56 L521.53,107.26 L520.68,107.96 L519.81,108.67 L518.91,109.37 L518.01,110.08 L517.12,110.78 L516.26,111.49 L515.45,112.19 L514.70,112.89 L514.02,113.60 L513.37,114.30 L512.75,115.01 L512.16,115.71 L511.60,116.42 L511.07,117.12 L510.57,117.83 L510.11,118.53 L509.67,119.23 L509.26,119.94 L508.86,120.64 L508.49,121.35 L508.13,122.05 L507.80,122.76 L507.50,123.46 L507.21,124.16 L506.95,124.87 L506.70,125.57 L506.46,126.28 L506.23,126.98 L506.02,127.69 L505.83,128.39 L505.65,129.10 L505.50,129.80 L505.40,129.80 Z" fill="#2b3894"/>
<path d="M505.40,33.30 L505.30,33.30 L505.39,34.00 L505.48,34.71 L505.59,35.41 L505.70,36.12 L505.83,36.82 L505.96,37.53 L506.10,38.23 L506.24,38.94 L506.39,39.64 L506.54,40.34 L506.70,41.05 L506.87,41.75 L507.05,42.46 L507.24,43.16 L507.45,43.87 L507.66,44.57 L507.88,45.27 L508.12,45.98 L508.37,46.68 L508.63,47.39 L508.91,48.09 L509.20,48.80 L509.52,49.50 L509.85,50.21 L510.20,50.91 L510.58,51.61 L510.99,52.32 L511.42,53.02 L511.88,53.73 L512.38,54.43 L512.93,55.14 L513.54,55.84 L514.21,56.54 L514.94,57.25 L515.73,57.95 L516.59,58.66 L517.53,59.36 L518.70,60.07 L520.10,60.77 L521.62,61.48 L523.16,62.18 L524.60,62.88 L525.91,63.59 L527.24,64.29 L528.56,65.00 L529.80,65.70 L530.90,66.41 L531.80,67.11 L532.53,67.81 L533.20,68.52 L533.82,69.22 L534.38,69.93 L534.88,70.63 L535.32,71.34 L535.69,72.04 L536.00,72.75 L536.29,73.45 L536.55,74.15 L536.79,74.86 L537.01,75.56 L537.22,76.27 L537.40,76.97 L537.55,77.68 L537.69,78.38 L537.80,79.08 L537.90,79.79 L537.99,80.49 L538.08,81.20 L538.16,81.90 L538.22,82.61 L538.27,83.31 L538.30,84.02 L538.29,84.72 L538.24,85.42 L538.13,86.13 L537.97,86.83 L537.78,87.54 L537.56,88.24 L537.31,88.95 L537.05,89.65 L536.78,90.35 L536.52,91.06 L536.23,91.76 L535.89,92.47 L535.51,93.17 L535.09,93.88 L534.64,94.58 L534.16,95.29 L533.65,95.99 L533.13,96.69 L532.56,97.40 L531.92,98.10 L531.24,98.81 L530.51,99.51 L529.76,100.22 L528.99,100.92 L528.22,101.62 L527.45,102.33 L526.65,103.03 L525.83,103.74 L524.98,104.44 L524.12,105.15 L523.26,105.85 L522.39,106.56 L521.53,107.26 L520.68,107.96 L519.81,108.67 L518.91,109.37 L518.01,110.08 L517.12,110.78 L516.26,111.49 L515.45,112.19 L514.70,112.89 L514.02,113.60 L513.37,114.30 L512.75,115.01 L512.16,115.71 L511.60,116.42 L511.07,117.12 L510.57,117.83 L510.11,118.53 L509.67,119.23 L509.26,119.94 L508.86,120.64 L508.49,121.35 L508.13,122.05 L507.80,122.76 L507.50,123.46 L507.21,124.16 L506.95,124.87 L506.70,125.57 L506.46,126.28 L506.23,126.98 L506.02,127.69 L505.83,128.39 L505.65,129.10 L505.50,129.80 L505.40,129.80" fill="none" stroke="#111111" stroke-width="0.8" stroke-linejoin="round"/>
<line x1="349.3" y1="15.6" x2="349.3" y2="162.4" stroke="#111111" stroke-width="0.5"/>
<line x1="411.85" y1="40.4" x2="411.85" y2="162.2" stroke="#111111" stroke-width="0.5"/>
<line x1="505.4" y1="33.3" x2="505.4" y2="140.3" stroke="#111111" stroke-width="0.5"/>
<line x1="318.0" y1="76.5" x2="349.3" y2="76.5" stroke="#1a1a1a" stroke-width="1.25" stroke-dasharray="1.2 1.47"/>
<line x1="314.1" y1="103.5" x2="349.3" y2="103.5" stroke="#1a1a1a" stroke-width="1.1" stroke-dasharray="4.1 2.4"/>
<line x1="318.0" y1="130.5" x2="349.3" y2="130.5" stroke="#1a1a1a" stroke-width="1.25" stroke-dasharray="1.2 1.47"/>
<line x1="349.3" y1="31.5" x2="383.2" y2="31.5" stroke="#1a1a1a" stroke-width="1.25" stroke-dasharray="1.2 1.47"/>
<line x1="349.3" y1="42.5" x2="386.5" y2="42.5" stroke="#1a1a1a" stroke-width="1.1" stroke-dasharray="4.1 2.4"/>
<line x1="349.3" y1="54.5" x2="384.5" y2="54.5" stroke="#1a1a1a" stroke-width="1.25" stroke-dasharray="1.2 1.47"/>
<line x1="381.0" y1="108.5" x2="411.8" y2="108.5" stroke="#1a1a1a" stroke-width="1.25" stroke-dasharray="1.2 1.47"/>
<line x1="374.0" y1="122.5" x2="411.8" y2="122.5" stroke="#1a1a1a" stroke-width="1.1" stroke-dasharray="4.1 2.4"/>
<line x1="374.2" y1="135.5" x2="411.8" y2="135.5" stroke="#1a1a1a" stroke-width="1.25" stroke-dasharray="1.2 1.47"/>
<line x1="411.9" y1="73.5" x2="441.5" y2="73.5" stroke="#1a1a1a" stroke-width="1.25" stroke-dasharray="1.2 1.47"/>
<line x1="411.9" y1="82.5" x2="444.5" y2="82.5" stroke="#1a1a1a" stroke-width="1.1" stroke-dasharray="4.1 2.4"/>
<line x1="411.9" y1="91.5" x2="441.2" y2="91.5" stroke="#1a1a1a" stroke-width="1.25" stroke-dasharray="1.2 1.47"/>
<line x1="478.0" y1="103.5" x2="505.4" y2="103.5" stroke="#1a1a1a" stroke-width="1.25" stroke-dasharray="1.2 1.47"/>
<line x1="467.5" y1="111.5" x2="505.4" y2="111.5" stroke="#1a1a1a" stroke-width="1.1" stroke-dasharray="4.1 2.4"/>
<line x1="474.5" y1="118.5" x2="505.4" y2="118.5" stroke="#1a1a1a" stroke-width="1.25" stroke-dasharray="1.2 1.47"/>
<line x1="505.4" y1="73.5" x2="535.8" y2="73.5" stroke="#1a1a1a" stroke-width="1.25" stroke-dasharray="1.2 1.47"/>
<line x1="505.4" y1="82.5" x2="538.2" y2="82.5" stroke="#1a1a1a" stroke-width="1.1" stroke-dasharray="4.1 2.4"/>
<line x1="505.4" y1="91.5" x2="536.3" y2="91.5" stroke="#1a1a1a" stroke-width="1.25" stroke-dasharray="1.2 1.47"/>
<rect x="429.4" y="7.6" width="111.2" height="21.9" fill="#fff"/>
<rect x="429.4" y="7.6" width="24.6" height="10.9" fill="#ed1c24" stroke="#222" stroke-width="0.6"/>
<rect x="429.4" y="18.5" width="24.6" height="11.0" fill="#2b3894" stroke="#222" stroke-width="0.6"/>
<rect x="429.4" y="7.6" width="111.2" height="21.9" fill="none" stroke="#707070" stroke-width="0.8"/>
<text x="455.9" y="15.3" font-family="Liberation Sans, sans-serif" font-size="6.1" font-weight="normal" text-anchor="start" fill="#2a2a2a" stroke="#2a2a2a" stroke-width="0.32" textLength="82.3" lengthAdjust="spacingAndGlyphs">Carbon Content of Hydrochar (%)</text>
<text x="455.9" y="25.5" font-family="Liberation Sans, sans-serif" font-size="6.1" font-weight="normal" text-anchor="start" fill="#2a2a2a" stroke="#2a2a2a" stroke-width="0.32" textLength="82.3" lengthAdjust="spacingAndGlyphs">Carbon Recovery of&#160; Hydrochar (%)</text>
<line x1="301.5" y1="3.2" x2="547.3" y2="3.2" stroke="#707070" stroke-width="1.0"/>
<line x1="305.6" y1="3.2" x2="305.6" y2="174.9" stroke="#707070" stroke-width="1.0"/>
<line x1="547.3" y1="3.2" x2="547.3" y2="174.9" stroke="#707070" stroke-width="1.0"/>
<line x1="301.5" y1="174.9" x2="547.3" y2="174.9" stroke="#707070" stroke-width="1.0"/>
<line x1="301.5" y1="13.5" x2="305.6" y2="13.5" stroke="#707070" stroke-width="1.0"/>
<text x="298.9" y="16.3" font-family="Liberation Sans, sans-serif" font-size="8.2" font-weight="normal" text-anchor="end" fill="#3a3a3a" stroke="#3a3a3a" stroke-width="0.32" textLength="7.9" lengthAdjust="spacingAndGlyphs">70</text>
<line x1="301.5" y1="38.0" x2="305.6" y2="38.0" stroke="#707070" stroke-width="1.0"/>
<text x="298.9" y="41.9" font-family="Liberation Sans, sans-serif" font-size="8.2" font-weight="normal" text-anchor="end" fill="#3a3a3a" stroke="#3a3a3a" stroke-width="0.32" textLength="7.9" lengthAdjust="spacingAndGlyphs">60</text>
<line x1="301.5" y1="62.4" x2="305.6" y2="62.4" stroke="#707070" stroke-width="1.0"/>
<text x="298.9" y="67.2" font-family="Liberation Sans, sans-serif" font-size="8.2" font-weight="normal" text-anchor="end" fill="#3a3a3a" stroke="#3a3a3a" stroke-width="0.32" textLength="7.9" lengthAdjust="spacingAndGlyphs">50</text>
<line x1="301.5" y1="86.9" x2="305.6" y2="86.9" stroke="#707070" stroke-width="1.0"/>
<text x="298.9" y="91.10000000000001" font-family="Liberation Sans, sans-serif" font-size="8.2" font-weight="normal" text-anchor="end" fill="#3a3a3a" stroke="#3a3a3a" stroke-width="0.32" textLength="7.9" lengthAdjust="spacingAndGlyphs">40</text>
<line x1="301.5" y1="111.4" x2="305.6" y2="111.4" stroke="#707070" stroke-width="1.0"/>
<text x="298.9" y="115.80000000000001" font-family="Liberation Sans, sans-serif" font-size="8.2" font-weight="normal" text-anchor="end" fill="#3a3a3a" stroke="#3a3a3a" stroke-width="0.32" textLength="7.9" lengthAdjust="spacingAndGlyphs">30</text>
<line x1="301.5" y1="136.3" x2="305.6" y2="136.3" stroke="#707070" stroke-width="1.0"/>
<text x="298.9" y="140.70000000000002" font-family="Liberation Sans, sans-serif" font-size="8.2" font-weight="normal" text-anchor="end" fill="#3a3a3a" stroke="#3a3a3a" stroke-width="0.32" textLength="7.9" lengthAdjust="spacingAndGlyphs">20</text>
<line x1="301.5" y1="160.7" x2="305.6" y2="160.7" stroke="#707070" stroke-width="1.0"/>
<text x="298.9" y="163.9" font-family="Liberation Sans, sans-serif" font-size="8.2" font-weight="normal" text-anchor="end" fill="#3a3a3a" stroke="#3a3a3a" stroke-width="0.32" textLength="7.9" lengthAdjust="spacingAndGlyphs">10</text>
<line x1="346.6" y1="175.0" x2="346.6" y2="177.7" stroke="#707070" stroke-width="1.0"/>
<line x1="428.0" y1="175.0" x2="428.0" y2="177.7" stroke="#707070" stroke-width="1.0"/>
<line x1="507.4" y1="175.0" x2="507.4" y2="177.7" stroke="#707070" stroke-width="1.0"/>
<text x="348.8" y="185.9" font-family="Liberation Sans, sans-serif" font-size="7.7" font-weight="normal" text-anchor="middle" fill="#2a2a2a" stroke="#2a2a2a" stroke-width="0.32" textLength="24.3" lengthAdjust="spacingAndGlyphs">Sludge</text>
<text x="430.2" y="185.9" font-family="Liberation Sans, sans-serif" font-size="7.7" font-weight="normal" text-anchor="middle" fill="#2a2a2a" stroke="#2a2a2a" stroke-width="0.32" textLength="40.5" lengthAdjust="spacingAndGlyphs">Food Waste</text>
<text x="507.2" y="185.9" font-family="Liberation Sans, sans-serif" font-size="7.7" font-weight="normal" text-anchor="middle" fill="#2a2a2a" stroke="#2a2a2a" stroke-width="0.32" textLength="49.8" lengthAdjust="spacingAndGlyphs">Cattle Manure</text>
<text x="285.4" y="87.5" font-family="Liberation Sans, sans-serif" font-size="7.4" font-weight="normal" text-anchor="middle" fill="#2a2a2a" stroke="#2a2a2a" stroke-width="0.32" textLength="22" lengthAdjust="spacingAndGlyphs" transform="rotate(-90 285.4 87.5)">Range</text>
<path d="M210.50,260.40 L186.40,260.40 L186.01,261.10 L185.62,261.80 L185.24,262.50 L184.86,263.20 L184.50,263.90 L184.14,264.60 L183.79,265.30 L183.45,266.00 L183.12,266.70 L182.80,267.41 L182.48,268.11 L182.17,268.81 L181.86,269.51 L181.55,270.21 L181.25,270.91 L180.96,271.61 L180.68,272.31 L180.42,273.01 L180.16,273.71 L179.92,274.41 L179.70,275.11 L179.48,275.81 L179.28,276.51 L179.08,277.21 L178.88,277.91 L178.70,278.61 L178.52,279.31 L178.34,280.01 L178.18,280.72 L178.01,281.42 L177.86,282.12 L177.71,282.82 L177.57,283.52 L177.43,284.22 L177.30,284.92 L177.17,285.62 L177.04,286.32 L176.92,287.02 L176.79,287.72 L176.67,288.42 L176.55,289.12 L176.44,289.82 L176.33,290.52 L176.23,291.22 L176.13,291.92 L176.05,292.62 L175.97,293.33 L175.90,294.03 L175.84,294.73 L175.78,295.43 L175.74,296.13 L175.69,296.83 L175.65,297.53 L175.60,298.23 L175.56,298.93 L175.52,299.63 L175.49,300.33 L175.46,301.03 L175.42,301.73 L175.40,302.43 L175.37,303.13 L175.35,303.83 L175.33,304.53 L175.31,305.23 L175.30,305.93 L175.29,306.64 L175.28,307.34 L175.27,308.04 L175.27,308.74 L175.26,309.44 L175.25,310.14 L175.24,310.84 L175.24,311.54 L175.23,312.24 L175.22,312.94 L175.22,313.64 L175.21,314.34 L175.21,315.04 L175.21,315.74 L175.20,316.44 L175.20,317.14 L175.20,317.84 L175.20,318.54 L175.20,319.24 L175.22,319.95 L175.24,320.65 L175.26,321.35 L175.29,322.05 L175.33,322.75 L175.38,323.45 L175.42,324.15 L175.48,324.85 L175.53,325.55 L175.60,326.25 L175.66,326.95 L175.73,327.65 L175.79,328.35 L175.86,329.05 L175.94,329.75 L176.01,330.45 L176.08,331.15 L176.15,331.85 L176.22,332.56 L176.30,333.26 L176.37,333.96 L176.45,334.66 L176.53,335.36 L176.62,336.06 L176.71,336.76 L176.81,337.46 L176.91,338.16 L177.02,338.86 L177.13,339.56 L177.24,340.26 L177.35,340.96 L177.47,341.66 L177.58,342.36 L177.70,343.06 L177.82,343.76 L177.94,344.46 L178.06,345.16 L178.18,345.87 L178.29,346.57 L178.41,347.27 L178.53,347.97 L178.65,348.67 L178.78,349.37 L178.91,350.07 L179.03,350.77 L179.16,351.47 L179.29,352.17 L179.43,352.87 L179.56,353.57 L179.69,354.27 L179.83,354.97 L179.97,355.67 L180.10,356.37 L180.24,357.07 L180.38,357.77 L180.52,358.47 L180.66,359.18 L180.80,359.88 L180.93,360.58 L181.08,361.28 L181.22,361.98 L181.36,362.68 L181.50,363.38 L181.65,364.08 L181.79,364.78 L181.94,365.48 L182.08,366.18 L182.23,366.88 L182.38,367.58 L182.53,368.28 L182.68,368.98 L182.83,369.68 L182.98,370.38 L183.14,371.08 L183.29,371.79 L183.44,372.49 L183.60,373.19 L183.75,373.89 L183.91,374.59 L184.06,375.29 L184.21,375.99 L184.37,376.69 L184.52,377.39 L184.68,378.09 L184.84,378.79 L185.00,379.49 L185.16,380.19 L185.32,380.89 L185.49,381.59 L185.66,382.29 L185.83,382.99 L186.01,383.69 L186.19,384.39 L186.38,385.10 L186.57,385.80 L186.77,386.50 L186.98,387.20 L187.19,387.90 L187.40,388.60 L187.62,389.30 L187.84,390.00 L188.07,390.70 L188.30,391.40 L210.50,391.40 Z" fill="#ed1c24"/>
<path d="M210.50,260.40 L215.80,260.40 L216.05,261.10 L216.29,261.80 L216.54,262.50 L216.79,263.20 L217.04,263.90 L217.30,264.60 L217.56,265.30 L217.81,266.00 L218.07,266.70 L218.34,267.41 L218.60,268.11 L218.86,268.81 L219.13,269.51 L219.40,270.21 L219.67,270.91 L219.94,271.61 L220.22,272.31 L220.49,273.01 L220.77,273.71 L221.05,274.41 L221.33,275.11 L221.61,275.81 L221.90,276.51 L222.18,277.21 L222.47,277.91 L222.76,278.61 L223.05,279.31 L223.35,280.01 L223.65,280.72 L223.95,281.42 L224.26,282.12 L224.58,282.82 L224.90,283.52 L225.22,284.22 L225.55,284.92 L225.88,285.62 L226.22,286.32 L226.55,287.02 L226.89,287.72 L227.24,288.42 L227.58,289.12 L227.93,289.82 L228.27,290.52 L228.62,291.22 L228.97,291.92 L229.32,292.62 L229.66,293.33 L230.01,294.03 L230.35,294.73 L230.69,295.43 L231.03,296.13 L231.37,296.83 L231.70,297.53 L232.03,298.23 L232.36,298.93 L232.68,299.63 L233.00,300.33 L233.32,301.03 L233.62,301.73 L233.93,302.43 L234.22,303.13 L234.51,303.83 L234.79,304.53 L235.07,305.23 L235.34,305.93 L235.61,306.64 L235.88,307.34 L236.15,308.04 L236.41,308.74 L236.67,309.44 L236.92,310.14 L237.17,310.84 L237.42,311.54 L237.67,312.24 L237.91,312.94 L238.15,313.64 L238.39,314.34 L238.63,315.04 L238.86,315.74 L239.09,316.44 L239.31,317.14 L239.53,317.84 L239.75,318.54 L239.97,319.24 L240.18,319.95 L240.40,320.65 L240.61,321.35 L240.83,322.05 L241.04,322.75 L241.26,323.45 L241.47,324.15 L241.67,324.85 L241.87,325.55 L242.06,326.25 L242.25,326.95 L242.42,327.65 L242.58,328.35 L242.72,329.05 L242.86,329.75 L242.98,330.45 L243.09,331.15 L243.20,331.85 L243.31,332.56 L243.42,333.26 L243.52,333.96 L243.62,334.66 L243.72,335.36 L243.81,336.06 L243.90,336.76 L243.98,337.46 L244.06,338.16 L244.14,338.86 L244.21,339.56 L244.27,340.26 L244.33,340.96 L244.39,341.66 L244.44,342.36 L244.49,343.06 L244.53,343.76 L244.57,344.46 L244.61,345.16 L244.65,345.87 L244.69,346.57 L244.73,347.27 L244.76,347.97 L244.79,348.67 L244.82,349.37 L244.85,350.07 L244.87,350.77 L244.88,351.47 L244.89,352.17 L244.90,352.87 L244.90,353.57 L244.89,354.27 L244.87,354.97 L244.85,355.67 L244.81,356.37 L244.77,357.07 L244.73,357.77 L244.67,358.47 L244.61,359.18 L244.55,359.88 L244.48,360.58 L244.41,361.28 L244.34,361.98 L244.26,362.68 L244.18,363.38 L244.10,364.08 L244.01,364.78 L243.92,365.48 L243.82,366.18 L243.69,366.88 L243.56,367.58 L243.41,368.28 L243.24,368.98 L243.06,369.68 L242.88,370.38 L242.68,371.08 L242.47,371.79 L242.25,372.49 L242.03,373.19 L241.80,373.89 L241.57,374.59 L241.33,375.29 L241.06,375.99 L240.76,376.69 L240.44,377.39 L240.10,378.09 L239.75,378.79 L239.38,379.49 L239.00,380.19 L238.62,380.89 L238.23,381.59 L237.84,382.29 L237.46,382.99 L237.07,383.69 L236.68,384.39 L236.29,385.10 L235.88,385.80 L235.47,386.50 L235.05,387.20 L234.62,387.90 L234.19,388.60 L233.75,389.30 L233.31,390.00 L232.86,390.70 L232.40,391.40 L210.50,391.40 Z" fill="#2b3894"/>
<line x1="210.5" y1="260.4" x2="210.5" y2="391.4" stroke="#3a1f30" stroke-width="0.4"/>
<path d="M291.70,266.60 L291.70,266.60 L291.03,267.30 L290.35,268.01 L289.67,268.71 L288.97,269.41 L288.26,270.11 L287.54,270.82 L286.81,271.52 L286.07,272.22 L285.34,272.92 L284.61,273.63 L283.89,274.33 L283.15,275.03 L282.41,275.73 L281.63,276.44 L280.83,277.14 L279.99,277.84 L279.10,278.54 L278.16,279.25 L277.12,279.95 L275.88,280.65 L274.51,281.35 L273.08,282.06 L271.64,282.76 L270.27,283.46 L269.04,284.16 L268.01,284.87 L267.10,285.57 L266.22,286.27 L265.38,286.97 L264.57,287.68 L263.81,288.38 L263.10,289.08 L262.44,289.78 L261.84,290.49 L261.30,291.19 L260.84,291.89 L260.44,292.59 L260.05,293.30 L259.68,294.00 L259.31,294.70 L258.96,295.40 L258.63,296.11 L258.32,296.81 L258.06,297.51 L257.83,298.21 L257.64,298.92 L257.50,299.62 L257.42,300.32 L257.40,301.02 L257.41,301.73 L257.44,302.43 L257.48,303.13 L257.54,303.83 L257.60,304.54 L257.69,305.24 L257.78,305.94 L257.88,306.64 L258.00,307.35 L258.12,308.05 L258.25,308.75 L258.39,309.45 L258.58,310.16 L258.85,310.86 L259.21,311.56 L259.65,312.26 L260.15,312.97 L260.70,313.67 L261.30,314.37 L261.94,315.07 L262.60,315.78 L263.29,316.48 L263.98,317.18 L264.79,317.88 L265.73,318.59 L266.78,319.29 L267.90,319.99 L269.09,320.69 L270.32,321.40 L271.56,322.10 L272.80,322.80 L274.00,323.50 L275.14,324.21 L276.24,324.91 L277.38,325.61 L278.55,326.31 L279.73,327.02 L280.89,327.72 L282.01,328.42 L283.05,329.12 L284.00,329.83 L284.83,330.53 L285.51,331.23 L286.14,331.93 L286.74,332.64 L287.31,333.34 L287.83,334.04 L288.30,334.74 L288.73,335.45 L289.10,336.15 L289.41,336.85 L289.65,337.55 L289.85,338.26 L290.03,338.96 L290.20,339.66 L290.35,340.36 L290.48,341.07 L290.61,341.77 L290.72,342.47 L290.84,343.17 L290.95,343.88 L291.06,344.58 L291.18,345.28 L291.30,345.98 L291.42,346.69 L291.54,347.39 L291.66,348.09 L291.78,348.79 L291.89,349.50 L292.00,350.20 L291.70,350.20 Z" fill="#ed1c24"/>
<path d="M291.70,266.60 L291.70,266.60 L291.03,267.30 L290.35,268.01 L289.67,268.71 L288.97,269.41 L288.26,270.11 L287.54,270.82 L286.81,271.52 L286.07,272.22 L285.34,272.92 L284.61,273.63 L283.89,274.33 L283.15,275.03 L282.41,275.73 L281.63,276.44 L280.83,277.14 L279.99,277.84 L279.10,278.54 L278.16,279.25 L277.12,279.95 L275.88,280.65 L274.51,281.35 L273.08,282.06 L271.64,282.76 L270.27,283.46 L269.04,284.16 L268.01,284.87 L267.10,285.57 L266.22,286.27 L265.38,286.97 L264.57,287.68 L263.81,288.38 L263.10,289.08 L262.44,289.78 L261.84,290.49 L261.30,291.19 L260.84,291.89 L260.44,292.59 L260.05,293.30 L259.68,294.00 L259.31,294.70 L258.96,295.40 L258.63,296.11 L258.32,296.81 L258.06,297.51 L257.83,298.21 L257.64,298.92 L257.50,299.62 L257.42,300.32 L257.40,301.02 L257.41,301.73 L257.44,302.43 L257.48,303.13 L257.54,303.83 L257.60,304.54 L257.69,305.24 L257.78,305.94 L257.88,306.64 L258.00,307.35 L258.12,308.05 L258.25,308.75 L258.39,309.45 L258.58,310.16 L258.85,310.86 L259.21,311.56 L259.65,312.26 L260.15,312.97 L260.70,313.67 L261.30,314.37 L261.94,315.07 L262.60,315.78 L263.29,316.48 L263.98,317.18 L264.79,317.88 L265.73,318.59 L266.78,319.29 L267.90,319.99 L269.09,320.69 L270.32,321.40 L271.56,322.10 L272.80,322.80 L274.00,323.50 L275.14,324.21 L276.24,324.91 L277.38,325.61 L278.55,326.31 L279.73,327.02 L280.89,327.72 L282.01,328.42 L283.05,329.12 L284.00,329.83 L284.83,330.53 L285.51,331.23 L286.14,331.93 L286.74,332.64 L287.31,333.34 L287.83,334.04 L288.30,334.74 L288.73,335.45 L289.10,336.15 L289.41,336.85 L289.65,337.55 L289.85,338.26 L290.03,338.96 L290.20,339.66 L290.35,340.36 L290.48,341.07 L290.61,341.77 L290.72,342.47 L290.84,343.17 L290.95,343.88 L291.06,344.58 L291.18,345.28 L291.30,345.98 L291.42,346.69 L291.54,347.39 L291.66,348.09 L291.78,348.79 L291.89,349.50 L292.00,350.20 L291.70,350.20" fill="none" stroke="#111111" stroke-width="0.5" stroke-linejoin="round"/>
<path d="M291.70,260.60 L315.30,260.60 L316.75,261.31 L318.14,262.01 L319.43,262.72 L320.55,263.42 L321.43,264.13 L322.09,264.83 L322.70,265.54 L323.28,266.24 L323.84,266.95 L324.34,267.66 L324.80,268.36 L325.20,269.07 L325.52,269.77 L325.77,270.48 L325.93,271.18 L326.00,271.89 L325.99,272.59 L325.94,273.30 L325.87,274.00 L325.77,274.71 L325.66,275.42 L325.52,276.12 L325.37,276.83 L325.21,277.53 L325.04,278.24 L324.85,278.94 L324.58,279.65 L324.26,280.35 L323.88,281.06 L323.46,281.77 L323.01,282.47 L322.54,283.18 L322.06,283.88 L321.57,284.59 L321.10,285.29 L320.64,286.00 L320.15,286.70 L319.63,287.41 L319.08,288.11 L318.51,288.82 L317.94,289.53 L317.38,290.23 L316.84,290.94 L316.33,291.64 L315.87,292.35 L315.47,293.05 L315.13,293.76 L314.83,294.46 L314.54,295.17 L314.27,295.88 L314.01,296.58 L313.77,297.29 L313.55,297.99 L313.33,298.70 L313.12,299.40 L312.92,300.11 L312.72,300.81 L312.54,301.52 L312.37,302.23 L312.21,302.93 L312.07,303.64 L311.93,304.34 L311.79,305.05 L311.64,305.75 L311.49,306.46 L311.33,307.16 L311.15,307.87 L310.95,308.57 L310.73,309.28 L310.49,309.99 L310.23,310.69 L309.95,311.40 L309.66,312.10 L309.36,312.81 L309.03,313.51 L308.70,314.22 L308.33,314.92 L307.93,315.63 L307.50,316.34 L307.06,317.04 L306.60,317.75 L306.13,318.45 L305.65,319.16 L305.18,319.86 L304.70,320.57 L304.23,321.27 L303.77,321.98 L303.32,322.69 L302.88,323.39 L302.43,324.10 L301.98,324.80 L301.53,325.51 L301.08,326.21 L300.63,326.92 L300.18,327.62 L299.74,328.33 L299.30,329.03 L298.86,329.74 L298.43,330.45 L298.01,331.15 L297.57,331.86 L297.12,332.56 L296.65,333.27 L296.19,333.97 L295.74,334.68 L295.30,335.38 L294.89,336.09 L294.52,336.80 L294.18,337.50 L293.90,338.21 L293.67,338.91 L293.44,339.62 L293.22,340.32 L293.01,341.03 L292.82,341.73 L292.64,342.44 L292.48,343.14 L292.34,343.85 L292.23,344.56 L292.15,345.26 L292.10,345.97 L292.07,346.67 L292.05,347.38 L292.03,348.08 L292.01,348.79 L292.00,349.49 L292.00,350.20 L291.70,350.20 Z" fill="#2b3894"/>
<path d="M291.70,260.60 L315.30,260.60 L316.75,261.31 L318.14,262.01 L319.43,262.72 L320.55,263.42 L321.43,264.13 L322.09,264.83 L322.70,265.54 L323.28,266.24 L323.84,266.95 L324.34,267.66 L324.80,268.36 L325.20,269.07 L325.52,269.77 L325.77,270.48 L325.93,271.18 L326.00,271.89 L325.99,272.59 L325.94,273.30 L325.87,274.00 L325.77,274.71 L325.66,275.42 L325.52,276.12 L325.37,276.83 L325.21,277.53 L325.04,278.24 L324.85,278.94 L324.58,279.65 L324.26,280.35 L323.88,281.06 L323.46,281.77 L323.01,282.47 L322.54,283.18 L322.06,283.88 L321.57,284.59 L321.10,285.29 L320.64,286.00 L320.15,286.70 L319.63,287.41 L319.08,288.11 L318.51,288.82 L317.94,289.53 L317.38,290.23 L316.84,290.94 L316.33,291.64 L315.87,292.35 L315.47,293.05 L315.13,293.76 L314.83,294.46 L314.54,295.17 L314.27,295.88 L314.01,296.58 L313.77,297.29 L313.55,297.99 L313.33,298.70 L313.12,299.40 L312.92,300.11 L312.72,300.81 L312.54,301.52 L312.37,302.23 L312.21,302.93 L312.07,303.64 L311.93,304.34 L311.79,305.05 L311.64,305.75 L311.49,306.46 L311.33,307.16 L311.15,307.87 L310.95,308.57 L310.73,309.28 L310.49,309.99 L310.23,310.69 L309.95,311.40 L309.66,312.10 L309.36,312.81 L309.03,313.51 L308.70,314.22 L308.33,314.92 L307.93,315.63 L307.50,316.34 L307.06,317.04 L306.60,317.75 L306.13,318.45 L305.65,319.16 L305.18,319.86 L304.70,320.57 L304.23,321.27 L303.77,321.98 L303.32,322.69 L302.88,323.39 L302.43,324.10 L301.98,324.80 L301.53,325.51 L301.08,326.21 L300.63,326.92 L300.18,327.62 L299.74,328.33 L299.30,329.03 L298.86,329.74 L298.43,330.45 L298.01,331.15 L297.57,331.86 L297.12,332.56 L296.65,333.27 L296.19,333.97 L295.74,334.68 L295.30,335.38 L294.89,336.09 L294.52,336.80 L294.18,337.50 L293.90,338.21 L293.67,338.91 L293.44,339.62 L293.22,340.32 L293.01,341.03 L292.82,341.73 L292.64,342.44 L292.48,343.14 L292.34,343.85 L292.23,344.56 L292.15,345.26 L292.10,345.97 L292.07,346.67 L292.05,347.38 L292.03,348.08 L292.01,348.79 L292.00,349.49 L292.00,350.20 L291.70,350.20" fill="none" stroke="#111111" stroke-width="0.5" stroke-linejoin="round"/>
<line x1="291.7" y1="260.6" x2="291.7" y2="350.2" stroke="#111111" stroke-width="0.4"/>
<path d="M368.60,260.00 L360.10,260.00 L360.08,260.70 L360.02,261.41 L359.92,262.11 L359.80,262.81 L359.66,263.51 L359.48,264.22 L359.14,264.92 L358.68,265.62 L358.13,266.32 L357.54,267.03 L356.95,267.73 L356.40,268.43 L355.87,269.13 L355.34,269.84 L354.79,270.54 L354.24,271.24 L353.66,271.95 L353.07,272.65 L352.46,273.35 L351.81,274.05 L351.14,274.76 L350.42,275.46 L349.64,276.16 L348.81,276.86 L347.95,277.57 L347.06,278.27 L346.17,278.97 L345.29,279.68 L344.43,280.38 L343.55,281.08 L342.64,281.78 L341.70,282.49 L340.78,283.19 L339.88,283.89 L339.06,284.59 L338.32,285.30 L337.70,286.00 L337.16,286.70 L336.64,287.40 L336.14,288.11 L335.68,288.81 L335.25,289.51 L334.86,290.22 L334.51,290.92 L334.22,291.62 L333.98,292.32 L333.79,293.03 L333.60,293.73 L333.43,294.43 L333.29,295.13 L333.18,295.84 L333.11,296.54 L333.10,297.24 L333.11,297.95 L333.13,298.65 L333.16,299.35 L333.20,300.05 L333.25,300.76 L333.30,301.46 L333.36,302.16 L333.43,302.86 L333.50,303.57 L333.57,304.27 L333.65,304.97 L333.73,305.67 L333.81,306.38 L333.90,307.08 L334.02,307.78 L334.15,308.49 L334.30,309.19 L334.47,309.89 L334.64,310.59 L334.83,311.30 L335.03,312.00 L335.23,312.70 L335.44,313.40 L335.65,314.11 L335.86,314.81 L336.07,315.51 L336.29,316.22 L336.53,316.92 L336.78,317.62 L337.04,318.32 L337.31,319.03 L337.60,319.73 L337.88,320.43 L338.17,321.13 L338.45,321.84 L338.73,322.54 L339.00,323.24 L339.26,323.94 L339.51,324.65 L339.75,325.35 L339.98,326.05 L340.19,326.76 L340.41,327.46 L340.61,328.16 L340.82,328.86 L341.02,329.57 L341.21,330.27 L341.41,330.97 L341.61,331.67 L341.81,332.38 L342.02,333.08 L342.23,333.78 L342.44,334.48 L342.66,335.19 L342.89,335.89 L343.13,336.59 L343.38,337.30 L343.63,338.00 L343.89,338.70 L344.16,339.40 L344.43,340.11 L344.70,340.81 L344.98,341.51 L345.27,342.21 L345.56,342.92 L345.85,343.62 L346.15,344.32 L346.45,345.03 L346.75,345.73 L347.06,346.43 L347.37,347.13 L347.68,347.84 L348.00,348.54 L348.32,349.24 L348.65,349.94 L348.98,350.65 L349.32,351.35 L349.67,352.05 L350.02,352.75 L350.37,353.46 L350.73,354.16 L351.09,354.86 L351.45,355.57 L351.81,356.27 L352.17,356.97 L352.53,357.67 L352.88,358.38 L353.24,359.08 L353.59,359.78 L353.94,360.48 L354.30,361.19 L354.66,361.89 L355.02,362.59 L355.39,363.30 L355.75,364.00 L356.12,364.70 L356.48,365.40 L356.84,366.11 L357.20,366.81 L357.55,367.51 L357.90,368.21 L358.25,368.92 L358.58,369.62 L358.91,370.32 L359.23,371.02 L359.54,371.73 L359.85,372.43 L360.16,373.13 L360.46,373.84 L360.75,374.54 L361.04,375.24 L361.33,375.94 L361.62,376.65 L361.90,377.35 L362.17,378.05 L362.45,378.75 L362.72,379.46 L362.98,380.16 L363.24,380.86 L363.49,381.57 L363.74,382.27 L363.99,382.97 L364.23,383.67 L364.47,384.38 L364.70,385.08 L364.93,385.78 L365.15,386.48 L365.37,387.19 L365.58,387.89 L365.80,388.59 L366.00,389.29 L366.20,390.00 L366.40,390.70 L368.60,390.70 Z" fill="#ed1c24"/>
<path d="M368.60,260.00 L360.10,260.00 L360.08,260.70 L360.02,261.41 L359.92,262.11 L359.80,262.81 L359.66,263.51 L359.48,264.22 L359.14,264.92 L358.68,265.62 L358.13,266.32 L357.54,267.03 L356.95,267.73 L356.40,268.43 L355.87,269.13 L355.34,269.84 L354.79,270.54 L354.24,271.24 L353.66,271.95 L353.07,272.65 L352.46,273.35 L351.81,274.05 L351.14,274.76 L350.42,275.46 L349.64,276.16 L348.81,276.86 L347.95,277.57 L347.06,278.27 L346.17,278.97 L345.29,279.68 L344.43,280.38 L343.55,281.08 L342.64,281.78 L341.70,282.49 L340.78,283.19 L339.88,283.89 L339.06,284.59 L338.32,285.30 L337.70,286.00 L337.16,286.70 L336.64,287.40 L336.14,288.11 L335.68,288.81 L335.25,289.51 L334.86,290.22 L334.51,290.92 L334.22,291.62 L333.98,292.32 L333.79,293.03 L333.60,293.73 L333.43,294.43 L333.29,295.13 L333.18,295.84 L333.11,296.54 L333.10,297.24 L333.11,297.95 L333.13,298.65 L333.16,299.35 L333.20,300.05 L333.25,300.76 L333.30,301.46 L333.36,302.16 L333.43,302.86 L333.50,303.57 L333.57,304.27 L333.65,304.97 L333.73,305.67 L333.81,306.38 L333.90,307.08 L334.02,307.78 L334.15,308.49 L334.30,309.19 L334.47,309.89 L334.64,310.59 L334.83,311.30 L335.03,312.00 L335.23,312.70 L335.44,313.40 L335.65,314.11 L335.86,314.81 L336.07,315.51 L336.29,316.22 L336.53,316.92 L336.78,317.62 L337.04,318.32 L337.31,319.03 L337.60,319.73 L337.88,320.43 L338.17,321.13 L338.45,321.84 L338.73,322.54 L339.00,323.24 L339.26,323.94 L339.51,324.65 L339.75,325.35 L339.98,326.05 L340.19,326.76 L340.41,327.46 L340.61,328.16 L340.82,328.86 L341.02,329.57 L341.21,330.27 L341.41,330.97 L341.61,331.67 L341.81,332.38 L342.02,333.08 L342.23,333.78 L342.44,334.48 L342.66,335.19 L342.89,335.89 L343.13,336.59 L343.38,337.30 L343.63,338.00 L343.89,338.70 L344.16,339.40 L344.43,340.11 L344.70,340.81 L344.98,341.51 L345.27,342.21 L345.56,342.92 L345.85,343.62 L346.15,344.32 L346.45,345.03 L346.75,345.73 L347.06,346.43 L347.37,347.13 L347.68,347.84 L348.00,348.54 L348.32,349.24 L348.65,349.94 L348.98,350.65 L349.32,351.35 L349.67,352.05 L350.02,352.75 L350.37,353.46 L350.73,354.16 L351.09,354.86 L351.45,355.57 L351.81,356.27 L352.17,356.97 L352.53,357.67 L352.88,358.38 L353.24,359.08 L353.59,359.78 L353.94,360.48 L354.30,361.19 L354.66,361.89 L355.02,362.59 L355.39,363.30 L355.75,364.00 L356.12,364.70 L356.48,365.40 L356.84,366.11 L357.20,366.81 L357.55,367.51 L357.90,368.21 L358.25,368.92 L358.58,369.62 L358.91,370.32 L359.23,371.02 L359.54,371.73 L359.85,372.43 L360.16,373.13 L360.46,373.84 L360.75,374.54 L361.04,375.24 L361.33,375.94 L361.62,376.65 L361.90,377.35 L362.17,378.05 L362.45,378.75 L362.72,379.46 L362.98,380.16 L363.24,380.86 L363.49,381.57 L363.74,382.27 L363.99,382.97 L364.23,383.67 L364.47,384.38 L364.70,385.08 L364.93,385.78 L365.15,386.48 L365.37,387.19 L365.58,387.89 L365.80,388.59 L366.00,389.29 L366.20,390.00 L366.40,390.70 L368.60,390.70" fill="none" stroke="#111111" stroke-width="0.5" stroke-linejoin="round"/>
<path d="M368.40,294.60 L368.40,294.60 L369.46,295.30 L370.59,296.01 L371.79,296.71 L373.07,297.41 L374.41,298.11 L375.82,298.82 L377.28,299.52 L378.79,300.22 L380.39,300.93 L382.07,301.63 L383.79,302.33 L385.52,303.03 L387.21,303.74 L388.91,304.44 L390.66,305.14 L392.40,305.85 L394.01,306.55 L395.41,307.25 L396.66,307.95 L397.86,308.66 L398.92,309.36 L399.76,310.06 L400.30,310.77 L400.71,311.47 L401.07,312.17 L401.34,312.87 L401.48,313.58 L401.49,314.28 L401.41,314.98 L401.27,315.69 L401.07,316.39 L400.82,317.09 L400.55,317.79 L400.25,318.50 L399.83,319.20 L399.18,319.90 L398.38,320.61 L397.52,321.31 L396.70,322.01 L396.00,322.71 L395.38,323.42 L394.80,324.12 L394.24,324.82 L393.68,325.53 L393.09,326.23 L392.47,326.93 L391.77,327.63 L391.00,328.34 L390.13,329.04 L389.19,329.74 L388.19,330.45 L387.17,331.15 L386.12,331.85 L385.04,332.55 L383.89,333.26 L382.71,333.96 L381.51,334.66 L380.32,335.37 L379.15,336.07 L377.94,336.77 L376.72,337.47 L375.51,338.18 L374.36,338.88 L373.30,339.58 L372.35,340.29 L371.45,340.99 L370.60,341.69 L369.80,342.39 L369.07,343.10 L368.40,343.80 L368.40,343.80 Z" fill="#2b3894"/>
<path d="M368.40,294.60 L368.40,294.60 L369.46,295.30 L370.59,296.01 L371.79,296.71 L373.07,297.41 L374.41,298.11 L375.82,298.82 L377.28,299.52 L378.79,300.22 L380.39,300.93 L382.07,301.63 L383.79,302.33 L385.52,303.03 L387.21,303.74 L388.91,304.44 L390.66,305.14 L392.40,305.85 L394.01,306.55 L395.41,307.25 L396.66,307.95 L397.86,308.66 L398.92,309.36 L399.76,310.06 L400.30,310.77 L400.71,311.47 L401.07,312.17 L401.34,312.87 L401.48,313.58 L401.49,314.28 L401.41,314.98 L401.27,315.69 L401.07,316.39 L400.82,317.09 L400.55,317.79 L400.25,318.50 L399.83,319.20 L399.18,319.90 L398.38,320.61 L397.52,321.31 L396.70,322.01 L396.00,322.71 L395.38,323.42 L394.80,324.12 L394.24,324.82 L393.68,325.53 L393.09,326.23 L392.47,326.93 L391.77,327.63 L391.00,328.34 L390.13,329.04 L389.19,329.74 L388.19,330.45 L387.17,331.15 L386.12,331.85 L385.04,332.55 L383.89,333.26 L382.71,333.96 L381.51,334.66 L380.32,335.37 L379.15,336.07 L377.94,336.77 L376.72,337.47 L375.51,338.18 L374.36,338.88 L373.30,339.58 L372.35,340.29 L371.45,340.99 L370.60,341.69 L369.80,342.39 L369.07,343.10 L368.40,343.80 L368.40,343.80" fill="none" stroke="#111111" stroke-width="0.5" stroke-linejoin="round"/>
<line x1="368.5" y1="260.0" x2="368.5" y2="390.7" stroke="#111111" stroke-width="0.4"/>
<line x1="180.0" y1="274.5" x2="210.4" y2="274.5" stroke="#1a1a1a" stroke-width="1.0" stroke-dasharray="1 1"/>
<line x1="175.5" y1="318.5" x2="210.4" y2="318.5" stroke="#1a0a0a" stroke-width="0.65" stroke-dasharray="3.6 2.1"/>
<line x1="184.0" y1="376.5" x2="210.4" y2="376.5" stroke="#1a1a1a" stroke-width="1.0" stroke-dasharray="1 1"/>
<line x1="210.0" y1="304.5" x2="234.5" y2="304.5" stroke="#1a1a1a" stroke-width="1.0" stroke-dasharray="1 1"/>
<line x1="210.6" y1="347.5" x2="244.2" y2="347.5" stroke="#1a0a0a" stroke-width="0.65" stroke-dasharray="3.6 2.1"/>
<line x1="210.0" y1="376.5" x2="240.0" y2="376.5" stroke="#1a1a1a" stroke-width="1.0" stroke-dasharray="1 1"/>
<line x1="262.0" y1="289.5" x2="291.6" y2="289.5" stroke="#1a1a1a" stroke-width="1.0" stroke-dasharray="1 1"/>
<line x1="257.6" y1="304.5" x2="291.6" y2="304.5" stroke="#1a0a0a" stroke-width="0.65" stroke-dasharray="3.6 2.1"/>
<line x1="262.0" y1="315.5" x2="291.6" y2="315.5" stroke="#1a1a1a" stroke-width="1.0" stroke-dasharray="1 1"/>
<line x1="291.0" y1="271.5" x2="326.0" y2="271.5" stroke="#1a1a1a" stroke-width="1.0" stroke-dasharray="1 1"/>
<line x1="291.8" y1="275.5" x2="324.0" y2="275.5" stroke="#1a0a0a" stroke-width="0.65" stroke-dasharray="3.6 2.1"/>
<line x1="291.8" y1="310.5" x2="310.0" y2="310.5" stroke="#1a1a1a" stroke-width="0.9"/>
<line x1="334.0" y1="292.5" x2="368.5" y2="292.5" stroke="#1a1a1a" stroke-width="1.0" stroke-dasharray="1 1"/>
<line x1="333.5" y1="306.5" x2="368.5" y2="306.5" stroke="#1a0a0a" stroke-width="0.65" stroke-dasharray="3.6 2.1"/>
<line x1="347.1" y1="346.5" x2="368.5" y2="346.5" stroke="#1a1a1a" stroke-width="0.9"/>
<line x1="368.0" y1="310.5" x2="399.5" y2="310.5" stroke="#1a1a1a" stroke-width="1.0" stroke-dasharray="1 1"/>
<line x1="368.5" y1="315.5" x2="401.0" y2="315.5" stroke="#1a0a0a" stroke-width="0.65" stroke-dasharray="3.6 2.1"/>
<line x1="368.5" y1="329.5" x2="388.9" y2="329.5" stroke="#1a1a1a" stroke-width="0.9"/>
<rect x="291.0" y="232.3" width="120.6" height="23.2" fill="#fff"/>
<rect x="291.0" y="232.3" width="26.7" height="11.6" fill="#ed1c24" stroke="#222" stroke-width="0.6"/>
<rect x="291.0" y="243.9" width="26.7" height="11.6" fill="#2b3894" stroke="#222" stroke-width="0.6"/>
<rect x="291.0" y="232.3" width="120.6" height="23.2" fill="none" stroke="#707070" stroke-width="0.8"/>
<text x="320.8" y="241.1" font-family="Liberation Sans, sans-serif" font-size="6.5" font-weight="normal" text-anchor="start" fill="#2a2a2a" stroke="#2a2a2a" stroke-width="0.32" textLength="74.8" lengthAdjust="spacingAndGlyphs">HHV of Hydrochar (MJ/Kg)</text>
<text x="320.5" y="252.5" font-family="Liberation Sans, sans-serif" font-size="6.5" font-weight="normal" text-anchor="start" fill="#2a2a2a" stroke="#2a2a2a" stroke-width="0.32" textLength="90.1" lengthAdjust="spacingAndGlyphs">Energy Recovery of Hydrochar (%)</text>
<line x1="153.2" y1="227.3" x2="418.5" y2="227.3" stroke="#707070" stroke-width="1.0"/>
<line x1="157.4" y1="227.3" x2="157.4" y2="413.0" stroke="#707070" stroke-width="1.0"/>
<line x1="418.5" y1="227.3" x2="418.5" y2="413.0" stroke="#707070" stroke-width="1.0"/>
<line x1="153.2" y1="413.0" x2="418.5" y2="413.0" stroke="#707070" stroke-width="1.0"/>
<line x1="153.2" y1="227.3" x2="157.4" y2="227.3" stroke="#707070" stroke-width="1.0"/>
<text x="150.4" y="229.7" font-family="Liberation Sans, sans-serif" font-size="8.7" font-weight="normal" text-anchor="end" fill="#3a3a3a" stroke="#3a3a3a" stroke-width="0.32">70</text>
<line x1="153.2" y1="258.3" x2="157.4" y2="258.3" stroke="#707070" stroke-width="1.0"/>
<text x="150.4" y="262.5" font-family="Liberation Sans, sans-serif" font-size="8.7" font-weight="normal" text-anchor="end" fill="#3a3a3a" stroke="#3a3a3a" stroke-width="0.32">60</text>
<line x1="153.2" y1="288.5" x2="157.4" y2="288.5" stroke="#707070" stroke-width="1.0"/>
<text x="150.4" y="290.6" font-family="Liberation Sans, sans-serif" font-size="8.7" font-weight="normal" text-anchor="end" fill="#3a3a3a" stroke="#3a3a3a" stroke-width="0.32">50</text>
<line x1="153.2" y1="319.5" x2="157.4" y2="319.5" stroke="#707070" stroke-width="1.0"/>
<text x="150.4" y="322.6" font-family="Liberation Sans, sans-serif" font-size="8.7" font-weight="normal" text-anchor="end" fill="#3a3a3a" stroke="#3a3a3a" stroke-width="0.32">40</text>
<line x1="153.2" y1="351.8" x2="157.4" y2="351.8" stroke="#707070" stroke-width="1.0"/>
<text x="150.4" y="355.90000000000003" font-family="Liberation Sans, sans-serif" font-size="8.7" font-weight="normal" text-anchor="end" fill="#3a3a3a" stroke="#3a3a3a" stroke-width="0.32">30</text>
<line x1="153.2" y1="383.9" x2="157.4" y2="383.9" stroke="#707070" stroke-width="1.0"/>
<text x="150.4" y="387.1" font-family="Liberation Sans, sans-serif" font-size="8.7" font-weight="normal" text-anchor="end" fill="#3a3a3a" stroke="#3a3a3a" stroke-width="0.32">20</text>
<line x1="153.2" y1="413.0" x2="157.4" y2="413.0" stroke="#707070" stroke-width="1.0"/>
<text x="150.4" y="413.3" font-family="Liberation Sans, sans-serif" font-size="8.7" font-weight="normal" text-anchor="end" fill="#3a3a3a" stroke="#3a3a3a" stroke-width="0.32">10</text>
<line x1="201.5" y1="413.1" x2="201.5" y2="416.5" stroke="#707070" stroke-width="1.0"/>
<line x1="289.5" y1="413.1" x2="289.5" y2="416.5" stroke="#707070" stroke-width="1.0"/>
<line x1="375.3" y1="413.1" x2="375.3" y2="416.5" stroke="#707070" stroke-width="1.0"/>
<text x="204.0" y="425.6" font-family="Liberation Sans, sans-serif" font-size="8.6" font-weight="normal" text-anchor="middle" fill="#2a2a2a" stroke="#2a2a2a" stroke-width="0.32" textLength="26.3" lengthAdjust="spacingAndGlyphs">Sludge</text>
<text x="291.8" y="425.6" font-family="Liberation Sans, sans-serif" font-size="8.6" font-weight="normal" text-anchor="middle" fill="#2a2a2a" stroke="#2a2a2a" stroke-width="0.32" textLength="42" lengthAdjust="spacingAndGlyphs">Food Waste</text>
<text x="375.1" y="425.6" font-family="Liberation Sans, sans-serif" font-size="8.6" font-weight="normal" text-anchor="middle" fill="#2a2a2a" stroke="#2a2a2a" stroke-width="0.32" textLength="52.5" lengthAdjust="spacingAndGlyphs">Cattle Manure</text>
<text x="136.6" y="318.3" font-family="Liberation Sans, sans-serif" font-size="8.6" font-weight="normal" text-anchor="middle" fill="#2a2a2a" stroke="#2a2a2a" stroke-width="0.32" textLength="23.1" lengthAdjust="spacingAndGlyphs" transform="rotate(-90 136.6 318.3)">Range</text>
<text x="125" y="211.7" font-family="Liberation Serif, serif" font-size="13.5" text-anchor="middle" fill="#222">(<tspan font-weight="bold">a</tspan>)</text>
<text x="413.5" y="211.8" font-family="Liberation Serif, serif" font-size="13.5" text-anchor="middle" fill="#222">(<tspan font-weight="bold">b</tspan>)</text>
<text x="274.6" y="446.9" font-family="Liberation Serif, serif" font-size="10.6" text-anchor="middle" fill="#222">(<tspan font-weight="bold">c</tspan>)</text>
</svg>
</body></html>
